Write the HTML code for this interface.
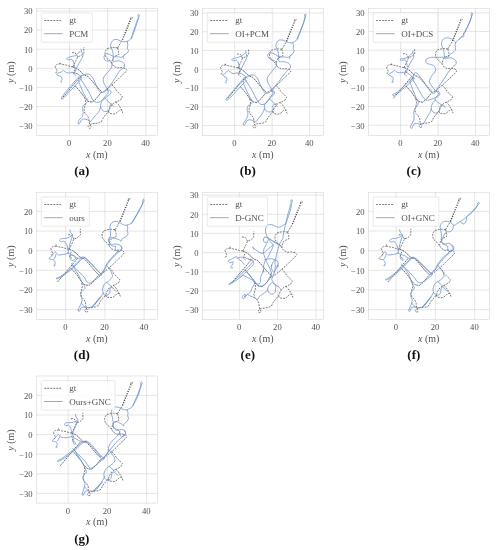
<!DOCTYPE html><html><head><meta charset="utf-8"><title>figure</title><style>html,body{margin:0;padding:0;background:#fff}svg{display:block}text{font-family:"Liberation Serif",serif;fill:#505050}.t{font-size:8.6px}.l{font-size:9px}.a{font-size:10px}.c{font-size:13px;font-weight:bold;fill:#111}.g{stroke:#cdcdcd;stroke-width:.5;fill:none}.gt{stroke:#3c3c3c;stroke-width:.68;fill:none;stroke-dasharray:1.9 1.1;stroke-linejoin:round}.gm{stroke:#383838;stroke-width:.78;fill:none;stroke-dasharray:1.9 1}.ga{stroke:#4f4f4f;stroke-width:1.4;fill:none;stroke-dasharray:1.2 1.2}.gs{stroke:#3c3c3c;stroke-width:.75;fill:none;stroke-linejoin:round;stroke-dasharray:2.1 .7}.b{stroke:#6a8fcb;stroke-width:.76;fill:none;stroke-linejoin:round;stroke-linecap:round}</style></head><body>
<svg width="498" height="550" viewBox="0 0 498 550">
<rect width="498" height="550" fill="#fff"/>
<g>
<text class="t" x="69.2" y="145.9" text-anchor="middle">0</text>
<text class="t" x="107.4" y="145.9" text-anchor="middle">20</text>
<text class="t" x="145.6" y="145.9" text-anchor="middle">40</text>
<text class="t" x="32.6" y="128.9" text-anchor="end">−30</text>
<text class="t" x="32.6" y="109.8" text-anchor="end">−20</text>
<text class="t" x="32.6" y="90.7" text-anchor="end">−10</text>
<text class="t" x="32.6" y="71.6" text-anchor="end">0</text>
<text class="t" x="32.6" y="52.5" text-anchor="end">10</text>
<text class="t" x="32.6" y="33.4" text-anchor="end">20</text>
<text class="t" x="32.6" y="14.3" text-anchor="end">30</text>
<path class="g" d="M69.5 8.2V135.3M107.7 8.2V135.3M145.9 8.2V135.3M36.5 125.6H157.5M36.5 106.5H157.5M36.5 87.4H157.5M36.5 68.3H157.5M36.5 49.2H157.5M36.5 30.1H157.5M36.5 11H157.5"/>
<rect class="g" x="36.5" y="8.2" width="121" height="127.1"/>
<clipPath id="ca"><rect x="36.5" y="8.2" width="121" height="127.1"/></clipPath>
<g clip-path="url(#ca)">
<path class="gt" d="M117.6 47.9L122.4 39.8"/>
<path class="ga" d="M122.4 39.8L130.7 19.2"/>
<path class="gt" d="M130.6 19.2L130.6 17.7L131.6 16.9L132.3 17.9L131.6 19"/>
<path class="gt" d="M117.6 47.9L113.9 47.4L110.2 47.9L106.9 48.8L105.1 51.5L105 55L106.7 58.2L109.6 60.7L111.9 63.4L111.9 63.6L113.8 66.3L117.1 67.9L121.1 67.6L125.1 68.3L126.8 70.3L124.7 72.9L121.8 75.5L118.5 78.8L115.2 81.9L111.9 84.8L108.6 87.7L105.2 90.3L102.6 92.1"/>
<path class="gt" d="M117.6 47.9L118.6 51.5L118.8 54.5L115.8 55.8L113.6 57.2L112.5 59.4L111.9 62L111.9 63.4"/>
<path class="gs" d="M72.9 66.9L76.2 68.2L79.5 70.4L82.2 73.5L84.8 75.2L87.5 76.1L90.1 78.7L94.1 83.4L98 88L102 92"/>
<path class="gt" d="M111.9 84.8L114.5 87.4L116.5 90.7L119.8 94L122.4 96.7L121.1 99.3L117.8 101.3L114.5 102.6L111.9 104.6L109.9 107.9L108.6 111.2L105.9 114.5L103.3 117.8L101.9 120.5L101.4 121.7L98.8 123L94.8 123.5L91.5 123.9L89.8 124.6L88.2 126.6L89.8 128.5L91.1 126.6L89.8 124.6L89.2 121.9L88.8 118.6L87.5 116L84.9 113.3L84 110L84.9 106.7L85.8 102.8L84.9 98.1"/>
<path class="gt" d="M108.6 111.2L109.2 113.2L111.9 113.9L115.2 113.9L117.8 111.9L119.8 109.9L121.8 109.9L122.8 113.2"/>
<path class="gt" d="M115.8 102L118.5 104.6L120.5 107.9L121.8 109.9"/>
<path class="gs" d="M75 85.6L80.3 91.5L84.9 98.1L88.2 101.4L92.2 102.1L96.1 98.8L101.4 92.2"/>
<path class="gm" d="M81.2 75.7L61.7 98.7"/>
<path class="gt" d="M72.9 66.9L74.2 64.2L76.2 60.2L77.6 56.9L80.9 55.6L83.9 53L83.8 47"/>
<path class="gt" d="M77.6 56.9L76.2 54.3L74.9 52.7L72.3 52.7L72.3 54"/>
<path class="gt" d="M72.9 66.9L69.6 66.2L66.3 65.1L63 64.6L60.4 63.8L60 61.6"/>
<path class="gt" d="M60.4 63.8L57.1 64.2L55.1 66.2L56.4 69.5L57.1 70.8L55.5 73.5"/>
<path class="gt" d="M74.9 69.5L74 71.7L73.6 74.1L75.6 75.4"/>
<path class="b" d="M131.3 38.7C131.8 37.5 133.3 33.7 134.2 31.2C135.1 28.7 136.1 26 136.8 23.6C137.6 21.3 138.4 18.6 138.8 17.3C139.3 15.9 139.5 15.9 139.5 15.4C139.5 15 138.9 14.5 138.6 14.5C138.3 14.5 137.8 15.2 137.8 15.7C137.7 16.2 138.5 16.3 138.3 17.5C138.1 18.7 137 20.9 136.3 22.8C135.6 24.8 134.9 27.3 134.2 29.2C133.5 31.1 132.8 33 132.3 34.5C131.9 36 131.6 37.6 131.4 38.2"/>
<path class="b" d="M131.4 38.2C131.1 38.5 130.5 39.3 129.8 39.8C129.1 40.3 128.2 41.1 127.2 41.4C126.2 41.7 125 41.9 123.9 41.8C122.8 41.7 121.6 41.2 120.5 40.9C119.4 40.5 118.3 39.7 117.2 39.5C116.1 39.4 114.8 39.4 113.9 39.8C113 40.2 112.2 41 111.7 41.8C111.1 42.6 110.7 43.9 110.6 44.8C110.5 45.8 110.9 46.7 111.3 47.8C111.6 48.8 112.3 50.1 112.6 51.1C112.9 52.1 112.9 52.8 113 53.7C113.1 54.6 113.2 55.5 113.3 56.4C113.3 57.3 113.3 58.1 113.3 59C113.3 59.9 112.7 61.3 113.3 61.7C113.8 62 115.5 61.1 116.6 61C117.7 60.9 118.8 60.8 119.9 61C120.9 61.2 122 61.7 122.8 62.3C123.6 63 124.3 63.9 124.5 64.7C124.7 65.6 124.3 66.6 123.9 67.4C123.4 68.1 122.4 68.8 121.9 69.2C121.3 69.7 121 69.4 120.5 69.9C119.9 70.5 119.2 71.6 118.5 72.6C117.8 73.6 117.3 74.7 116.5 75.9C115.7 77.1 114.7 78.6 113.9 79.9C113 81.2 112.1 82.6 111.2 83.9C110.3 85.1 109.2 86.2 108.6 87.2C107.9 88.2 107.5 89.4 107.2 89.8"/>
<path class="b" d="M127.2 41.4C127.3 42 127.8 43.9 127.8 45.1C127.8 46.3 127.1 47.5 127.2 48.4C127.3 49.3 128.5 49.6 128.5 50.4C128.5 51.2 127.8 52.4 127.2 53.1C126.5 53.8 125.2 54.1 124.5 54.7C123.9 55.2 123.3 55.8 123.2 56.4C123 57 123.5 58 123.6 58.4"/>
<path class="b" d="M124.5 54.7C124.1 55.1 122.9 57 121.9 57.3C120.9 57.7 119.8 56.9 118.6 56.8C117.3 56.7 115.6 56.9 114.6 56.8C113.6 56.6 113.5 56.4 112.6 56C111.7 55.6 110.3 54.8 109.3 54.4C108.3 54 107.4 53.6 106.6 53.7C105.9 53.8 105.1 54.4 104.6 55.1C104.2 55.7 103.9 56.8 104 57.7C104.1 58.6 104.6 59.8 105.3 60.4C106 60.9 107.2 61 108 61C108.7 61 109.3 59.9 109.9 60.4C110.6 60.8 111.7 62.7 111.9 63.9C112.1 65.2 111.8 66.7 111.3 67.9C110.7 69.1 109.5 70.2 108.6 71.3C107.6 72.4 106.5 73.5 105.6 74.6C104.8 75.7 103.9 76.8 103.5 77.9C103.1 79 103.1 80.1 103.3 81.2C103.4 82.3 104 83.4 104.6 84.5C105.1 85.6 106.1 86.9 106.6 87.8C107 88.7 107.1 89.5 107.2 89.8"/>
<path class="b" d="M107.2 89.8C107.7 89.9 109.2 90.2 109.9 90.5C110.5 90.8 111.2 91.1 111.2 91.8C111.2 92.5 110.5 93.7 109.9 94.5C109.2 95.2 108 95.8 107.2 96.4C106.5 97.1 105.2 97.8 105.2 98.4C105.2 99.1 106.5 99.7 107.2 100.4C108 101.2 108.9 102.2 109.9 103.1C110.9 104 112.5 105.1 113.2 105.7C113.9 106.3 113.7 106.5 113.9 106.7"/>
<path class="b" d="M105.2 98.4C104.8 98.8 103.3 99.5 102.6 100.4C101.9 101.3 101.2 102.6 100.9 103.7C100.5 104.8 100.4 106.1 100.6 107.1C100.8 108 101.3 109 101.9 109.7C102.6 110.4 103.6 111.2 104.6 111.4C105.6 111.6 107.1 111.5 107.9 111C108.7 110.5 109.3 109.3 109.6 108.4C109.9 107.5 109.6 106.5 109.9 105.7C110.1 105 111 104.1 111.2 103.7"/>
<path class="b" d="M100.6 107.1C100.4 107.7 99.9 109.8 99.3 111C98.6 112.2 97.5 113.3 96.6 114.3C95.7 115.3 94.7 116.1 94 117C93.2 117.9 92.7 118.8 92 119.6C91.3 120.5 90.4 122.1 90 122.3C89.6 122.5 90.2 121.4 89.8 121C89.3 120.6 88.1 120 87.1 119.7C86.1 119.3 84.8 118.9 83.8 119C82.8 119.1 81.8 119.7 81.1 120.3C80.5 121 80.3 122.3 79.8 123C79.4 123.7 78.8 124.4 78.5 124.3C78.2 124.2 78.2 123 78.2 122.3C78.3 121.7 78.5 121 78.9 120.3C79.3 119.7 79.9 119 80.5 118.4C81.1 117.7 82 117.4 82.5 116.4C82.9 115.4 83.1 113.7 83.1 112.4C83.1 111.1 82.4 109.6 82.5 108.4C82.6 107.2 83.1 106 83.8 105.1C84.5 104.2 85.8 104 86.4 103.1C87.1 102.2 87.9 100.8 87.8 99.8C87.7 98.8 86.4 98.1 85.8 97.1C85.1 96.2 84.5 95.2 83.8 93.8C83.1 92.5 82.5 90.7 81.8 89.2C81.1 87.6 80.4 86 79.8 84.6C79.3 83.1 78.5 81.7 78.5 80.6C78.5 79.5 79.4 78.7 79.8 77.9C80.3 77.2 80.9 76.3 81.1 75.9"/>
<path class="b" d="M81.1 75.9C81 76.3 80.3 76.9 80.5 77.9C80.7 78.9 81.7 80.6 82.5 81.9C83.2 83.2 84.1 84.3 85.1 85.9C86.1 87.4 87.4 89.4 88.4 91.2C89.4 92.9 90.3 94.9 91.1 96.5C91.9 98 92.2 99.5 93.1 100.5C94 101.5 95.2 102.2 96.4 102.4C97.6 102.7 99.3 102.3 100.4 101.8C101.5 101.2 102.1 100.1 103 99.1C103.9 98.1 104.8 96.9 105.7 95.8C106.5 94.7 108.1 93.5 108.3 92.5C108.6 91.5 107.4 90.3 107.2 89.8"/>
<path class="b" d="M81.1 75.9C81.5 75.8 82.3 75.6 83.1 75.3C84 74.9 85.3 74.1 86.4 74C87.6 73.8 88.8 74.1 89.8 74.6C90.8 75.2 91.6 76.2 92.4 77.3C93.2 78.4 93.7 79.8 94.4 81.2C95.1 82.7 95.7 84.4 96.4 85.9C97.1 87.3 97.6 88.8 98.4 89.9C99.1 91 100 92.2 101 92.5C102 92.8 103.2 92.4 104.3 91.8C105.4 91.3 107.1 89.6 107.7 89.2"/>
<path class="b" d="M79.4 76.1C78.7 76.9 76.8 79 75.2 80.8C73.6 82.7 71.5 85 69.9 86.9C68.2 88.9 66.5 90.9 65.2 92.5C64 94.1 62.8 95.6 62.2 96.5C61.6 97.4 61.4 97.4 61.4 97.8C61.4 98.2 61.6 98.8 61.9 98.9C62.2 99 62.3 99.1 63.1 98.5C63.9 97.8 65.2 96.3 66.6 94.9C67.9 93.5 69.5 91.6 71.2 89.9C72.9 88.1 74.9 86 76.5 84.2C78.2 82.3 80.4 79.9 81.1 79"/>
<path class="b" d="M81.1 49.2C81.3 49.7 81.5 51.6 81.8 52.5C82.1 53.4 83 53.7 83.1 54.5C83.2 55.2 82.8 56.2 82.5 57.1C82.1 58 81.7 58.9 81.1 59.8C80.6 60.6 80 61.4 79.4 62.4C78.9 63.4 78.3 64.7 77.8 65.7C77.3 66.7 76.9 67.5 76.5 68.4C76.1 69.3 75.5 70.3 75.2 71C74.9 71.8 74.6 72.7 74.5 73"/>
<path class="b" d="M80.2 51.1C79.9 51.5 79.1 52.5 78.5 53.1C77.9 53.7 77.2 54.3 76.5 54.7C75.8 55.2 75.3 55.5 74.5 55.8C73.7 56.1 72.8 56.2 71.9 56.4C71 56.7 70.1 56.8 69.2 57.1C68.3 57.4 66.7 58 66.6 58.4C66.5 58.9 67.8 59.7 68.6 59.8C69.3 59.9 70.4 58.9 71.2 59.1C72 59.3 72.8 60.3 73.2 61.1C73.6 61.9 73.6 62.9 73.9 63.7C74.1 64.6 74.3 65.5 74.5 66.4C74.7 67.3 75.1 68.6 75.2 69"/>
<path class="b" d="M74.5 73C74.1 72.9 72.9 72.4 71.9 72.4C70.9 72.4 69.5 73 68.6 73C67.6 73 66.7 72.8 65.9 72.4C65.1 71.9 64.5 70.6 63.9 70.4C63.4 70.1 63.1 70.7 62.6 71C62 71.4 61.4 72 60.6 72.4C59.8 72.7 58.6 72.7 58 73C57.3 73.3 56.5 73.9 56.6 74.3C56.7 74.8 58 75.3 58.6 75.7C59.3 76 60.1 75.9 60.6 76.3C61.2 76.8 61.8 77.7 61.9 78.3C62.1 79 61.9 79.8 61.7 80.3C61.4 80.9 60.6 81.3 60.6 81.6C60.6 82 61.7 82.2 61.9 82.3"/>
<path class="b" d="M74.5 73C75 73.1 76.3 73.2 77.2 73.7C78.1 74.1 79 75 79.8 75.7C80.6 76.3 81.5 77.3 81.8 77.7"/>
</g>
<rect x="41.3" y="12.9" width="51" height="29.3" rx="1" fill="#fff" fill-opacity=".8" stroke="#dadada" stroke-width=".6"/>
<path class="gt" d="M44.3 20.5H62.3"/>
<path class="b" d="M44.3 33.7H62.3"/>
<text class="l" x="69.3" y="23.3">gt</text>
<text class="l" x="69.3" y="36.7">PCM</text>
<text class="a" x="96.8" y="157.5" text-anchor="middle"><tspan font-style="italic">x</tspan> (m)</text>
<text class="a" transform="translate(14.3 72.2) rotate(-90)" text-anchor="middle"><tspan font-style="italic">y</tspan> (m)</text>
<text class="c" x="81.8" y="174.8" text-anchor="middle">(a)</text>
</g>
<g>
<text class="t" x="234.3" y="145.9" text-anchor="middle">0</text>
<text class="t" x="271.8" y="145.9" text-anchor="middle">20</text>
<text class="t" x="309.3" y="145.9" text-anchor="middle">40</text>
<text class="t" x="198.6" y="128.8" text-anchor="end">−30</text>
<text class="t" x="198.6" y="110.1" text-anchor="end">−20</text>
<text class="t" x="198.6" y="91.3" text-anchor="end">−10</text>
<text class="t" x="198.6" y="72.6" text-anchor="end">0</text>
<text class="t" x="198.6" y="53.8" text-anchor="end">10</text>
<text class="t" x="198.6" y="35.1" text-anchor="end">20</text>
<text class="t" x="198.6" y="16.3" text-anchor="end">30</text>
<path class="g" d="M234.6 8.2V135.3M272.1 8.2V135.3M309.6 8.2V135.3M202.5 125.5H323.5M202.5 106.8H323.5M202.5 88H323.5M202.5 69.3H323.5M202.5 50.5H323.5M202.5 31.8H323.5M202.5 13H323.5"/>
<rect class="g" x="202.5" y="8.2" width="121" height="127.1"/>
<clipPath id="cb"><rect x="202.5" y="8.2" width="121" height="127.1"/></clipPath>
<g clip-path="url(#cb)">
<path class="gt" d="M281.9 49.2L286.5 41.4"/>
<path class="ga" d="M286.5 41.4L294.7 21.1"/>
<path class="gt" d="M294.6 21.1L294.6 19.6L295.5 18.9L296.3 19.8L295.5 20.9"/>
<path class="gt" d="M281.8 49.3L278.2 48.8L274.5 49.3L271.3 50.2L269.6 52.8L269.5 56.3L271.1 59.4L274 61.9L276.2 64.5L276.2 64.7L278.1 67.3L281.4 68.9L285.3 68.6L289.2 69.3L290.8 71.2L288.8 73.8L285.9 76.4L282.7 79.6L279.4 82.6L276.2 85.5L272.9 88.3L269.7 90.9L267.1 92.6"/>
<path class="gt" d="M281.8 49.3L282.8 52.8L283 55.8L280.1 57.1L277.9 58.4L276.9 60.6L276.2 63.2L276.2 64.5"/>
<path class="gs" d="M238 67.9L241.2 69.2L244.4 71.4L247 74.4L249.6 76.1L252.2 77L254.8 79.6L258.7 84.1L262.6 88.6L266.5 92.5"/>
<path class="gt" d="M276.2 85.5L278.8 88.1L280.7 91.3L284 94.6L286.6 97.2L285.3 99.8L282 101.7L278.8 103L276.2 105L274.2 108.2L272.9 111.4L270.3 114.7L267.7 117.9L266.4 120.5L265.9 121.7L263.3 123L259.4 123.5L256.2 123.9L254.5 124.5L252.9 126.5L254.5 128.4L255.8 126.5L254.5 124.5L254 121.9L253.6 118.7L252.3 116.1L249.7 113.5L248.8 110.3L249.7 107L250.6 103.1L249.7 98.6"/>
<path class="gt" d="M272.9 111.4L273.6 113.4L276.2 114L279.4 114L282 112.1L284 110.1L285.9 110.1L287 113.4"/>
<path class="gt" d="M280.1 102.4L282.7 105L284.6 108.2L285.9 110.1"/>
<path class="gs" d="M240 86.3L245.2 92.1L249.7 98.6L252.9 101.8L256.8 102.5L260.7 99.2L265.9 92.7"/>
<path class="gm" d="M246 76.6L226.9 99.1"/>
<path class="gt" d="M238 67.9L239.3 65.3L241.2 61.4L242.5 58.1L245.7 56.8L248.7 54.3L248.6 48.4"/>
<path class="gt" d="M242.5 58.1L241.2 55.5L239.9 54L237.3 54L237.3 55.3"/>
<path class="gt" d="M238 67.9L234.7 67.2L231.5 66.2L228.2 65.7L225.6 64.9L225.2 62.7"/>
<path class="gt" d="M225.6 64.9L222.4 65.3L220.4 67.2L221.7 70.5L222.4 71.8L220.8 74.4"/>
<path class="gt" d="M239.9 70.5L239 72.7L238.6 75L240.6 76.3"/>
<path class="b" d="M297.1 38.5C297.4 37.9 297.9 36.6 298.5 35.2C299.1 33.7 300 31.7 300.7 29.9C301.5 28 302.4 25.8 303.1 23.9C303.8 22 304.4 19.8 304.8 18.3C305.3 16.9 305.8 16 305.9 15.3C306 14.6 305.6 14 305.4 14C305.1 13.9 304.6 14.5 304.6 15.2C304.5 15.8 305.1 16.8 305 18.1C304.8 19.3 304.3 20.9 303.8 22.6C303.2 24.2 302.4 26.1 301.8 27.9C301.1 29.6 300.4 31.6 299.8 33.2C299.2 34.7 298.6 36.2 298.2 37.2C297.8 38.2 297.7 38.8 297.5 39.1"/>
<path class="b" d="M297.5 39.1C297.1 39.5 296 40.5 295.2 41.1C294.3 41.7 293.5 42.5 292.5 42.7C291.5 43 290.3 42.9 289.2 42.7C288.1 42.5 287 41.8 285.9 41.4C284.8 41 283.7 40.3 282.6 40.1C281.5 39.9 280.2 39.7 279.3 40.1C278.3 40.4 277.4 41.4 276.9 42.2C276.3 43 276 44.1 275.9 45.1C275.9 46.1 276.3 47.3 276.6 48.4C276.9 49.5 277.6 50.6 277.9 51.7C278.3 52.8 278.5 53.9 278.6 55.1C278.7 56.2 278.5 57.3 278.6 58.4C278.7 59.5 278.6 61.1 279.3 61.7C279.9 62.2 281.5 61.6 282.6 61.7C283.7 61.7 284.8 61.8 285.9 62.1C286.9 62.4 288 62.8 288.8 63.4C289.6 64 290.3 64.8 290.5 65.7C290.7 66.5 290.3 67.8 290.1 68.3C289.9 68.8 290 68.1 289.4 68.6C288.8 69.1 287.6 70.4 286.7 71.3C285.9 72.1 285.3 72.9 284.5 73.9C283.7 74.9 282.7 76 281.8 77.2C281 78.4 280.2 79.9 279.2 81.2C278.2 82.5 276.9 83.9 275.9 85.2C274.9 86.5 273.9 88.1 273.2 89.2C272.6 90.2 272.1 91.1 271.9 91.5"/>
<path class="b" d="M292.5 42.7C292.7 43.2 293.5 44.8 293.6 45.8C293.7 46.7 293.1 47.6 293.2 48.4C293.3 49.2 294.1 49.9 294.1 50.7C294.1 51.5 293.7 52.6 293.2 53.3C292.6 54.1 291.5 54.4 290.9 55.1C290.4 55.7 290.1 56.4 289.9 57C289.6 57.6 289.6 58.4 289.6 58.6"/>
<path class="b" d="M290.9 55.1C290.4 55.4 288.9 57 287.9 57.3C286.8 57.6 285.8 57.1 284.6 57C283.3 57 281.8 57 280.6 56.8C279.4 56.6 278.4 56.2 277.3 55.7C276.2 55.2 275.1 54.2 274 53.7C272.8 53.2 271.6 52.8 270.6 52.8C269.7 52.8 268.9 53.2 268.4 53.7C267.9 54.2 267.5 55 267.6 55.7C267.7 56.4 268.3 57.4 268.9 58.1C269.5 58.8 270.5 59.3 271.3 59.7C272.1 60.1 273.2 59.9 274 60.4C274.7 60.8 275.5 61.3 275.9 62.3C276.4 63.3 276.7 65.5 276.6 66.3C276.5 67.1 275.9 66.6 275.2 67.3C274.5 68 273.5 69.5 272.6 70.6C271.7 71.7 270.7 72.8 269.9 73.9C269.1 75 268.1 76.1 267.7 77.2C267.2 78.3 267.1 79.4 267.3 80.5C267.4 81.6 268 82.8 268.6 83.9C269.1 85 270 86 270.6 87.2C271.1 88.4 271.7 90.5 271.9 91.1"/>
<path class="b" d="M271.9 91.1C272.2 91.1 273.5 90.8 273.9 91.1C274.3 91.5 274.8 92.4 274.6 93.1C274.3 93.9 273.3 94.9 272.6 95.8C271.8 96.7 270.5 97.9 269.9 98.4C269.4 99 269 98.8 269.3 99.1C269.5 99.4 270.5 99.8 271.2 100.4C272 101.1 273 102.2 273.9 103.1C274.8 104 275.9 105.1 276.5 105.7C277.1 106.3 277.3 106.5 277.5 106.7"/>
<path class="b" d="M269.3 99.1C268.8 99.5 267.4 100.8 266.6 101.7C265.8 102.7 264.9 104 264.6 105.1C264.3 106.2 264.3 107.4 264.6 108.4C264.9 109.4 265.6 110.4 266.3 111C267.1 111.6 268.3 112 269.3 112C270.2 112 271.2 111.6 271.9 111C272.6 110.4 273.1 109.3 273.2 108.4C273.3 107.5 272.3 106.4 272.6 105.7C272.8 105.1 273.9 104.7 274.6 104.4C275.2 104.1 276.2 103.8 276.5 103.7"/>
<path class="b" d="M264.6 108.4C264.4 108.9 263.8 110.6 263.3 111.7C262.7 112.8 262.1 113.9 261.3 115C260.5 116.1 259.4 117.3 258.7 118.3C257.9 119.3 257.1 120.4 256.7 121C256.2 121.5 256.4 121.7 255.8 121.7C255.2 121.6 254.1 120.9 253.1 120.6C252.1 120.3 250.9 119.6 249.8 119.7C248.7 119.7 247.5 120.3 246.7 121C246 121.7 245.9 122.9 245.4 123.7C245 124.4 244.5 125.3 244.1 125.4C243.7 125.5 243.2 124.8 243.2 124.3C243.2 123.8 243.7 123.1 244.1 122.3C244.5 121.6 245.2 120.7 245.8 119.7C246.4 118.7 247.2 117.6 247.5 116.4C247.9 115.1 247.9 113.7 247.8 112.4C247.7 111.1 247 109.6 247.1 108.4C247.3 107.3 247.8 106.3 248.5 105.5C249.1 104.7 250.5 104.5 251.1 103.8C251.8 103 252.5 102 252.4 101.1C252.4 100.2 251.3 99.5 250.7 98.5C250.1 97.5 249.6 96.5 248.9 95.2C248.2 93.8 247.2 92.1 246.5 90.5C245.8 89 245 87.3 244.5 85.9C243.9 84.4 243.2 83 243.2 81.9C243.2 80.8 244.1 80 244.5 79.3C244.9 78.5 245.6 77.6 245.8 77.3"/>
<path class="b" d="M245.8 77.3C245.8 77.6 245.1 78.3 245.4 79.3C245.7 80.2 246.7 81.9 247.5 83.2C248.3 84.6 249.3 85.7 250.2 87.2C251.1 88.8 252.2 90.7 253.1 92.5C254 94.3 254.9 96.3 255.8 97.8C256.6 99.4 257.3 100.7 258.1 101.8C259 102.9 259.9 104.1 261.1 104.4C262.2 104.8 263.9 104.4 265 103.8C266.2 103.2 267.1 101.8 268 100.7C268.8 99.6 269.5 98.4 270.3 97.1C271.2 95.9 272.7 94.1 273 93.2C273.3 92.2 272.1 91.8 271.9 91.5"/>
<path class="b" d="M245.8 77.3C246.2 77.2 246.9 77 247.8 76.6C248.7 76.2 250 75.2 251.1 75C252.2 74.8 253.4 74.8 254.4 75.3C255.4 75.8 256.3 76.8 257.1 77.9C257.9 79 258.4 80.5 259.1 81.9C259.7 83.3 260.3 85 261.1 86.5C261.8 88 262.6 89.7 263.4 90.9C264.3 92.1 265.2 93.3 266.1 93.6C267 93.8 268 93.1 269 92.5C270.1 91.9 271.8 90.3 272.3 89.9"/>
<path class="b" d="M244.5 77.7C243.8 78.5 241.7 80.7 240.1 82.4C238.6 84.2 236.9 86.3 235.2 88.3C233.6 90.2 231.7 92.5 230.3 94.1C229 95.7 227.8 97 227.1 97.8C226.4 98.6 226.3 98.7 226.2 99.1C226.1 99.5 226.3 100.1 226.6 100.2C226.9 100.3 227.1 100.3 227.9 99.7C228.8 99 230.2 97.7 231.6 96.2C233.1 94.8 234.8 92.8 236.5 90.9C238.2 89.1 240.2 87 241.8 85.2C243.5 83.5 245.5 81.1 246.2 80.3"/>
<path class="b" d="M245.8 51.1C245.9 51.6 246 53 246.2 53.8C246.4 54.6 247.1 55.2 247.1 56.1C247.1 56.9 246.7 58.1 246.2 59.1C245.8 60.1 245 61.2 244.5 62.1C244 63.1 243.6 64.1 243.2 65.1C242.7 66 242.3 66.8 241.8 67.7C241.4 68.6 240.9 69.5 240.5 70.4C240.1 71.2 239.7 72.6 239.6 73"/>
<path class="b" d="M245.4 52.5C245 52.9 243.9 54.5 243.2 55.1C242.4 55.8 241.8 56.1 240.9 56.4C240 56.8 238.9 57.1 237.9 57.4C236.8 57.7 235.6 57.8 234.6 58.2C233.5 58.5 231.7 59.1 231.6 59.5C231.5 59.9 233.1 60.7 233.9 60.8C234.6 60.9 235.5 59.9 236.1 60C236.8 60.2 237.4 61 237.9 61.7C238.3 62.5 238.5 63.5 238.8 64.4C239.1 65.3 239.4 66.2 239.6 67.1C239.8 67.9 240 69.3 240.1 69.7"/>
<path class="b" d="M239.6 73C239.1 73 237.6 72.9 236.5 73C235.5 73.1 234.2 73.8 233.2 73.7C232.2 73.6 231.4 72.9 230.6 72.4C229.8 71.8 229.3 70.4 228.6 70.4C227.9 70.3 227.3 71.4 226.6 72C225.9 72.5 225.3 73.2 224.6 73.7C224 74.1 222.7 74.2 222.6 74.6C222.5 75 223.4 75.9 224 76.3C224.5 76.7 225.5 76.5 225.9 77C226.4 77.4 226.8 78.3 226.9 79C226.9 79.6 226.6 80.4 226.3 81C226.1 81.5 225.2 82 225.3 82.3C225.3 82.6 226.4 82.8 226.6 83"/>
<path class="b" d="M239.6 73C240.1 73.2 241.6 73.8 242.5 74.3C243.4 74.9 244.4 75.7 245.2 76.3C245.9 77 246.8 78 247.1 78.3"/>
</g>
<rect x="207.3" y="12.9" width="65.6" height="29.3" rx="1" fill="#fff" fill-opacity=".8" stroke="#dadada" stroke-width=".6"/>
<path class="gt" d="M210.3 20.5H228.3"/>
<path class="b" d="M210.3 33.7H228.3"/>
<text class="l" x="235.3" y="23.3">gt</text>
<text class="l" x="235.3" y="36.7">OI+PCM</text>
<text class="a" x="262.8" y="157.5" text-anchor="middle"><tspan font-style="italic">x</tspan> (m)</text>
<text class="a" transform="translate(180.3 72.2) rotate(-90)" text-anchor="middle"><tspan font-style="italic">y</tspan> (m)</text>
<text class="c" x="247.8" y="174.8" text-anchor="middle">(b)</text>
</g>
<g>
<text class="t" x="400.3" y="145.9" text-anchor="middle">0</text>
<text class="t" x="437.8" y="145.9" text-anchor="middle">20</text>
<text class="t" x="475.3" y="145.9" text-anchor="middle">40</text>
<text class="t" x="364.5" y="128.6" text-anchor="end">−30</text>
<text class="t" x="364.5" y="109.8" text-anchor="end">−20</text>
<text class="t" x="364.5" y="91" text-anchor="end">−10</text>
<text class="t" x="364.5" y="72.3" text-anchor="end">0</text>
<text class="t" x="364.5" y="53.5" text-anchor="end">10</text>
<text class="t" x="364.5" y="34.8" text-anchor="end">20</text>
<text class="t" x="364.5" y="16.1" text-anchor="end">30</text>
<path class="g" d="M400.6 8.2V135.3M438.1 8.2V135.3M475.6 8.2V135.3M368.4 125.2H489.4M368.4 106.5H489.4M368.4 87.8H489.4M368.4 69H489.4M368.4 50.2H489.4M368.4 31.5H489.4M368.4 12.8H489.4"/>
<rect class="g" x="368.4" y="8.2" width="121" height="127.1"/>
<clipPath id="cc"><rect x="368.4" y="8.2" width="121" height="127.1"/></clipPath>
<g clip-path="url(#cc)">
<path class="gt" d="M447.9 48.9L452.5 41.1"/>
<path class="ga" d="M452.5 41.1L460.7 20.8"/>
<path class="gt" d="M460.6 20.8L460.6 19.3L461.5 18.6L462.3 19.5L461.5 20.6"/>
<path class="gt" d="M447.8 49L444.2 48.5L440.5 49L437.3 49.9L435.6 52.5L435.5 56L437.1 59.1L440 61.6L442.2 64.2L442.2 64.4L444.1 67L447.4 68.6L451.3 68.3L455.2 69L456.8 70.9L454.8 73.5L451.9 76.1L448.7 79.3L445.4 82.3L442.2 85.2L438.9 88L435.7 90.6L433.1 92.3"/>
<path class="gt" d="M447.8 49L448.8 52.5L449 55.5L446.1 56.8L443.9 58.1L442.9 60.3L442.2 62.9L442.2 64.2"/>
<path class="gs" d="M404 67.6L407.2 68.9L410.4 71.1L413 74.1L415.6 75.8L418.2 76.7L420.8 79.3L424.7 83.8L428.6 88.3L432.5 92.2"/>
<path class="gt" d="M442.2 85.2L444.8 87.8L446.7 91L450 94.3L452.6 96.9L451.3 99.5L448 101.4L444.8 102.7L442.2 104.7L440.2 107.9L438.9 111.1L436.3 114.4L433.7 117.6L432.4 120.2L431.9 121.4L429.3 122.7L425.4 123.2L422.2 123.6L420.5 124.2L418.9 126.2L420.5 128.1L421.8 126.2L420.5 124.2L420 121.6L419.6 118.4L418.3 115.8L415.7 113.2L414.8 110L415.7 106.7L416.6 102.8L415.7 98.3"/>
<path class="gt" d="M438.9 111.1L439.6 113.1L442.2 113.7L445.4 113.7L448 111.8L450 109.8L451.9 109.8L453 113.1"/>
<path class="gt" d="M446.1 102.1L448.7 104.7L450.6 107.9L451.9 109.8"/>
<path class="gs" d="M406 86L411.2 91.8L415.7 98.3L418.9 101.5L422.8 102.2L426.7 98.9L431.9 92.4"/>
<path class="gm" d="M412 76.3L392.9 98.8"/>
<path class="gt" d="M404 67.6L405.3 65L407.2 61.1L408.5 57.8L411.7 56.5L414.7 54L414.6 48.1"/>
<path class="gt" d="M408.5 57.8L407.2 55.2L405.9 53.7L403.3 53.7L403.3 55"/>
<path class="gt" d="M404 67.6L400.7 66.9L397.5 65.9L394.2 65.4L391.6 64.6L391.2 62.4"/>
<path class="gt" d="M391.6 64.6L388.4 65L386.4 66.9L387.7 70.2L388.4 71.5L386.8 74.1"/>
<path class="gt" d="M405.9 70.2L405 72.4L404.6 74.7L406.6 76"/>
<path class="b" d="M459.2 39.5C459.6 39 460.9 37.6 461.8 36.5C462.7 35.4 463.6 34.6 464.5 33.2C465.4 31.7 466.2 29.8 467.1 27.9C468 26 469 23.9 469.8 21.9C470.5 20 471.3 17.5 471.8 16.2C472.2 14.9 472.6 14.5 472.6 14C472.6 13.4 472 12.7 471.8 12.8C471.5 12.8 471.1 13.5 471.1 14.1C471.1 14.7 471.7 15.5 471.5 16.6C471.3 17.7 470.8 19 470.2 20.6C469.6 22.1 468.6 24.1 467.8 25.9C466.9 27.7 465.8 29.9 465.1 31.2C464.4 32.5 463.7 33 463.5 33.8C463.4 34.7 464.2 35.7 464.1 36.2C463.9 36.7 463.3 36.6 462.7 36.9C462.2 37.2 461.3 37.2 460.5 37.8C459.7 38.4 458.7 39.7 457.8 40.5C457 41.3 456 41.8 455.6 42.7C455.1 43.6 455.2 44.7 455.2 45.8C455.2 46.8 455.8 48.1 455.6 49.1C455.4 50.1 454.6 51 453.9 51.7C453.1 52.5 452 53.1 451.2 53.7C450.4 54.3 449.7 54.9 449.2 55.4C448.8 56 449.2 56.5 448.6 56.8C447.9 57 446.5 57 445.3 57C444 57.1 442.6 57.3 441.3 57.3C440 57.3 438.8 57.3 437.3 57.3C435.8 57.3 433.3 57.2 432 57.3C430.7 57.4 430.6 57.5 429.7 57.8C428.8 58 427.5 58.1 426.8 58.7C426.1 59.3 425.7 60.3 425.7 61.1C425.8 61.9 426.3 62.9 427.1 63.5C427.8 64 429.3 64 430.4 64.4C431.5 64.8 432.8 65.1 433.7 65.7C434.6 66.4 435.5 67.4 435.7 68.4C435.9 69.4 435.5 70.7 435 71.7C434.6 72.7 433.7 73.5 433 74.3C432.4 75.2 431.6 76 431 77C430.5 78 430 79.5 429.7 80.3C429.4 81.1 429 81.1 429.3 81.9C429.6 82.7 430.5 84.1 431.3 85.2C432 86.3 433 87.5 433.7 88.5C434.4 89.5 435.2 90.7 435.5 91.1"/>
<path class="b" d="M455.6 42.7C455.3 42.3 454.6 41.1 453.9 40.5C453.1 39.8 452.2 39.2 451.2 38.7C450.2 38.3 449 37.9 447.9 37.8C446.8 37.7 445.5 37.8 444.6 38.2C443.7 38.7 442.8 39.5 442.3 40.5C441.8 41.4 441.5 42.7 441.5 43.8C441.5 44.9 442 46 442.3 47.1C442.7 48.2 443.4 49.3 443.7 50.4C444 51.5 444 52.6 444.2 53.7C444.3 54.8 444.4 56.2 444.6 57C444.8 57.9 444.6 58.6 445.3 58.8C445.9 58.9 447.5 58.1 448.6 58C449.7 57.9 450.8 57.8 451.9 58.1C452.9 58.4 454.1 59 454.8 59.7C455.5 60.4 456.1 61.2 456.3 62.1C456.4 62.9 456 64.1 455.6 64.7C455.2 65.4 454.5 65.3 453.8 66C453.1 66.6 452 67.6 451.2 68.6C450.3 69.6 449.4 70.7 448.5 71.9C447.6 73.1 446.7 74.6 445.9 75.9C445 77.2 444.1 78.6 443.2 79.9C442.3 81.2 441.4 82.5 440.6 83.9C439.7 85.2 438.7 86.6 437.9 87.8C437.1 89 436.2 90.6 435.9 91.1"/>
<path class="b" d="M435.9 91.1C436.2 91.4 437.5 91.9 437.9 92.5C438.3 93 438.8 93.8 438.6 94.5C438.3 95.1 437.1 95.8 436.6 96.4C436 97.1 435.5 97.8 435.3 98.4C435 99.1 435.3 100.1 435.3 100.4"/>
<path class="b" d="M413.1 77.3C413.1 77.6 412.5 78.3 412.7 79.3C413 80.2 414.1 81.7 414.9 83C415.6 84.2 416.3 85.5 417.1 86.9C417.9 88.4 418.9 90.3 419.8 91.8C420.7 93.4 421.5 95 422.4 96.2C423.3 97.5 424.1 98.7 425.1 99.4C426.1 100.1 427.3 100.2 428.4 100.2C429.5 100.2 430.6 99.5 431.7 99.1C432.8 98.7 433.9 98.3 435 97.8C436.1 97.3 437.5 96.9 438.3 96.2C439.1 95.5 439.9 94.4 439.9 93.6C440 92.8 439.3 91.8 438.7 91.4C438.1 91 436.7 91.2 436.3 91.2"/>
<path class="b" d="M413.1 77.3C413.3 76.8 413.4 75 413.8 74.2C414.2 73.4 414.8 72.8 415.4 72.6C416 72.5 416.6 73 417.1 73.3C417.6 73.6 417.9 74 418.4 74.6C419 75.3 419.7 76.3 420.4 77.3C421.2 78.3 422.2 79.4 423.1 80.6C424 81.8 424.9 83.2 425.7 84.6C426.6 85.9 427.5 87.2 428.4 88.5C429.3 89.9 430.4 91.7 431.3 92.5C432.2 93.3 433.1 93.4 434 93.2C434.8 92.9 435.9 91.5 436.3 91.2"/>
<path class="b" d="M413.1 77.3C412.6 78 410.4 80.5 410.1 81.9C409.8 83.3 410.9 84.4 411.4 85.9C411.9 87.3 412.5 89 413.1 90.5C413.8 92.1 414.5 93.7 415.1 95.2C415.7 96.6 416.2 97.9 416.7 99.1C417.3 100.3 418.4 101.3 418.4 102.4C418.5 103.6 417.7 104.8 417.1 105.8C416.6 106.8 415.7 107.3 415.1 108.4C414.6 109.5 414 111.1 413.8 112.4C413.6 113.7 414.1 115 414.1 116.4C414.1 117.7 414.1 119.2 413.8 120.3C413.5 121.4 412.7 122.1 412.2 123C411.7 123.9 411.2 124.9 410.9 125.6C410.6 126.4 410.3 127.2 410.5 127.6C410.7 128.1 411.4 128.5 411.8 128.3C412.2 128.1 412.4 127 412.7 126.3C413.1 125.6 413.2 124.6 413.8 124.1C414.4 123.5 415.5 123.3 416.5 123.3C417.5 123.3 418.7 124 419.8 124.1C420.9 124.1 422.3 123.9 423.1 123.7C423.9 123.4 423.9 123.1 424.4 122.3C424.9 121.5 425.4 120.1 426 119C426.6 117.9 427.3 116.8 428 115.7C428.6 114.6 429.4 113.5 430 112.4C430.5 111.2 431 110.1 431.3 109C431.5 107.9 431.2 106.8 431.5 105.7C431.9 104.6 432.6 103.3 433.3 102.4C433.9 101.5 434.6 100.5 435.3 100.4C435.9 100.3 436.5 101.2 437.2 101.7C438 102.3 439.1 103.2 439.9 103.7C440.7 104.3 441.5 104.8 441.9 105.1"/>
<path class="b" d="M431.3 109C431.5 109.5 431.9 111 432.6 111.7C433.3 112.4 434.4 112.9 435.3 113C436.1 113.1 437.1 112.9 437.9 112.4C438.7 111.8 439.6 110.6 439.9 109.7C440.2 108.8 439.7 107.8 439.9 107.1C440.1 106.3 440.6 105.3 441.2 105.1C441.9 104.8 443.3 105.3 443.9 105.7C444.5 106.1 444.6 107.2 444.8 107.4"/>
<path class="b" d="M413.1 77.9C412.4 78.6 410.2 80.4 408.5 81.9C406.9 83.4 405 85.3 403.2 86.9C401.4 88.6 399.4 90.4 397.9 91.6C396.4 92.7 395.1 93.3 394.2 93.8C393.3 94.3 392.8 94.2 392.6 94.5C392.4 94.8 392.5 95.3 392.9 95.4C393.2 95.5 393.5 95.7 394.6 95.2C395.7 94.6 397.6 93.4 399.2 92.1C400.9 90.9 402.8 89.1 404.5 87.6C406.3 86.1 408.2 84.5 409.8 83C411.5 81.5 413.7 79.3 414.5 78.6"/>
<path class="b" d="M412.7 51.1C412.8 51.6 413 53 413.1 53.8C413.3 54.6 413.8 55.3 413.8 56.1C413.8 56.8 413.5 57.6 413.1 58.4C412.7 59.3 412 60.2 411.4 61.1C410.9 62 410.3 62.9 409.8 63.7C409.3 64.6 408.9 65.5 408.5 66.4C408.1 67.3 407.5 68.3 407.2 69.3C406.9 70.3 406.6 71.8 406.5 72.4"/>
<path class="b" d="M412.5 52.5C412.2 52.9 411.3 54.3 410.5 55.1C409.7 55.9 408.7 56.6 407.8 57.1C407 57.6 406.1 58 405.2 58.2C404.3 58.4 403.4 58.2 402.5 58.4C401.7 58.7 400 59.2 399.9 59.5C399.8 59.8 401.1 60.4 401.9 60.4C402.7 60.5 403.8 59.6 404.5 59.8C405.2 59.9 405.7 60.6 406.1 61.4C406.5 62.1 406.7 63.1 406.9 64C407.1 64.9 407.4 66.2 407.4 66.7"/>
<path class="b" d="M406.5 72.4C406 72.4 404.3 72.3 403.2 72.4C402.1 72.4 401 72.8 399.9 72.8C398.8 72.7 397.5 72.4 396.6 72C395.7 71.6 395.3 70.4 394.6 70.4C393.9 70.4 393.3 71.5 392.6 72C391.9 72.4 390.9 72.8 390.2 73.3C389.6 73.7 388.6 74.2 388.6 74.6C388.6 75 389.6 75.6 390.2 75.9C390.8 76.3 391.8 76.2 392.3 76.7C392.8 77.2 393.2 78.3 393.3 79C393.3 79.7 392.8 80.4 392.6 81C392.4 81.5 391.8 82.1 391.9 82.3C392.1 82.5 393 82.1 393.3 82"/>
<path class="b" d="M406.5 72.4C407 72.7 408.3 73.7 409.2 74.3C410.1 75 411.1 75.7 411.8 76.3C412.6 77 413.3 78 413.5 78.3"/>
</g>
<rect x="373.2" y="12.9" width="64.6" height="29.3" rx="1" fill="#fff" fill-opacity=".8" stroke="#dadada" stroke-width=".6"/>
<path class="gt" d="M376.2 20.5H394.2"/>
<path class="b" d="M376.2 33.7H394.2"/>
<text class="l" x="401.2" y="23.3">gt</text>
<text class="l" x="401.2" y="36.7">OI+DCS</text>
<text class="a" x="428.7" y="157.5" text-anchor="middle"><tspan font-style="italic">x</tspan> (m)</text>
<text class="a" transform="translate(346.2 72.2) rotate(-90)" text-anchor="middle"><tspan font-style="italic">y</tspan> (m)</text>
<text class="c" x="413.8" y="174.8" text-anchor="middle">(c)</text>
</g>
<g>
<text class="t" x="65.3" y="329.9" text-anchor="middle">0</text>
<text class="t" x="104.6" y="329.9" text-anchor="middle">20</text>
<text class="t" x="143.9" y="329.9" text-anchor="middle">40</text>
<text class="t" x="32.6" y="312.9" text-anchor="end">−30</text>
<text class="t" x="32.6" y="293.3" text-anchor="end">−20</text>
<text class="t" x="32.6" y="273.6" text-anchor="end">−10</text>
<text class="t" x="32.6" y="254" text-anchor="end">0</text>
<text class="t" x="32.6" y="234.4" text-anchor="end">10</text>
<text class="t" x="32.6" y="214.7" text-anchor="end">20</text>
<path class="g" d="M65.6 192.2V319.3M104.9 192.2V319.3M144.2 192.2V319.3M36.5 309.6H157.5M36.5 290H157.5M36.5 270.3H157.5M36.5 250.7H157.5M36.5 231.1H157.5M36.5 211.4H157.5"/>
<rect class="g" x="36.5" y="192.2" width="121" height="127.1"/>
<clipPath id="cd"><rect x="36.5" y="192.2" width="121" height="127.1"/></clipPath>
<g clip-path="url(#cd)">
<path class="gt" d="M115.1 229.7L120 221.4"/>
<path class="ga" d="M120 221.4L128.5 200.2"/>
<path class="gt" d="M128.4 200.2L128.4 198.7L129.4 197.9L130.2 198.9L129.4 200"/>
<path class="gt" d="M115 229.7L111.2 229.2L107.4 229.7L104 230.7L102.2 233.4L102.1 237.1L103.9 240.3L106.9 242.9L109.2 245.6L109.2 245.9L111.2 248.6L114.6 250.3L118.7 250L122.7 250.7L124.5 252.7L122.3 255.4L119.4 258.1L116 261.5L112.6 264.7L109.2 267.7L105.8 270.6L102.4 273.4L99.6 275.1"/>
<path class="gt" d="M115 229.7L116.1 233.4L116.2 236.5L113.3 237.9L110.9 239.2L109.9 241.5L109.2 244.3L109.2 245.6"/>
<path class="gs" d="M69.1 249.2L72.5 250.6L75.9 252.9L78.6 256L81.4 257.8L84.1 258.7L86.8 261.4L90.9 266.2L94.9 271L99 275"/>
<path class="gt" d="M109.2 267.7L111.9 270.4L113.9 273.8L117.3 277.2L120 279.9L118.7 282.6L115.3 284.6L111.9 286L109.2 288L107.1 291.4L105.8 294.8L103 298.2L100.3 301.6L99 304.4L98.4 305.6L95.7 306.9L91.6 307.5L88.2 307.9L86.4 308.6L84.8 310.6L86.4 312.6L87.8 310.6L86.4 308.6L85.9 305.8L85.5 302.4L84.1 299.7L81.4 297L80.5 293.6L81.4 290.2L82.4 286.1L81.4 281.4"/>
<path class="gt" d="M105.8 294.8L106.4 296.9L109.2 297.6L112.6 297.6L115.3 295.5L117.3 293.5L119.4 293.5L120.4 296.9"/>
<path class="gt" d="M113.2 285.3L116 288L118 291.4L119.4 293.5"/>
<path class="gs" d="M71.2 268.5L76.7 274.6L81.4 281.4L84.8 284.8L88.9 285.5L93 282.1L98.4 275.3"/>
<path class="gm" d="M77.6 258.4L57.5 281.9"/>
<path class="gt" d="M69.1 249.2L70.5 246.5L72.5 242.4L73.9 239L77.3 237.7L80.4 234.9L80.3 228.8"/>
<path class="gt" d="M73.9 239L72.5 236.3L71.2 234.7L68.4 234.7L68.4 236"/>
<path class="gt" d="M69.1 249.2L65.7 248.5L62.3 247.4L58.9 246.9L56.2 246.1L55.8 243.8"/>
<path class="gt" d="M56.2 246.1L52.8 246.5L50.8 248.5L52.1 251.9L52.8 253.3L51.2 256"/>
<path class="gt" d="M71.2 251.9L70.2 254.2L69.8 256.7L71.8 258"/>
<path class="b" d="M131.5 223.5C131.8 223.2 132.5 222.5 133.1 221.4C133.8 220.4 134.7 218.7 135.5 217.2C136.4 215.7 137.3 214.1 138.2 212.5C139.1 211 140 209.3 140.8 207.6C141.6 206 142.5 203.8 143.1 202.6C143.6 201.4 144.1 200.8 144.1 200.2C144.2 199.6 143.7 199.1 143.5 199.2C143.2 199.2 142.8 199.8 142.7 200.5C142.5 201.2 143.1 202 142.7 203.3C142.3 204.5 141.2 206.4 140.4 207.9C139.6 209.5 138.7 211 137.8 212.5C136.9 214.1 135.9 215.9 135.1 217.2C134.3 218.5 133.6 219.6 133.1 220.5C132.6 221.4 132.6 222.2 132.1 222.7C131.5 223.3 130.6 223.7 129.8 224.1C129 224.5 128.1 225 127.2 225.1C126.3 225.3 125.5 225.4 124.5 225.1C123.5 224.9 122.3 224.1 121.2 223.5C120.1 223 119 222.2 117.9 221.8C116.8 221.5 115.6 221.3 114.6 221.4C113.6 221.6 112.6 222.1 111.9 222.7C111.2 223.4 110.7 224.2 110.3 225.1C110 226.1 109.9 227.3 109.9 228.4C109.9 229.6 110.2 230.7 110.3 231.8C110.4 232.9 110.7 234.1 110.6 235.1C110.5 236.1 110.2 236.8 109.9 237.7C109.7 238.6 109.3 239.5 109.3 240.4C109.2 241.3 109.3 242.3 109.5 243C109.8 243.8 110 244.5 110.6 245C111.2 245.6 112.4 246.1 113.3 246.3C114.1 246.6 115.3 245.9 115.6 246.3C116 246.8 115.1 248.2 115.2 249C115.4 249.8 115.9 250.6 116.6 251C117.2 251.4 118.4 251.5 119.2 251.4C120 251.2 120.8 250.7 121.2 250.1C121.6 249.4 122 248.4 121.9 247.7C121.8 246.9 121.2 246.2 120.5 245.7C119.9 245.1 118.8 244.6 117.9 244.4C117 244.1 116.1 244 115.2 244C114.4 244 113.4 244.4 112.6 244.4C111.8 244.3 110.9 244.1 110.3 243.7C109.7 243.3 109.4 242.8 109 242.1C108.7 241.4 108.2 240.4 108.2 239.7C108.3 239 108.8 238.1 109.3 237.7C109.8 237.3 110.5 237.3 111.3 237.3C112 237.4 112.9 237.8 113.9 238.1C114.9 238.4 116.2 238.7 117.2 239.1C118.2 239.4 119.3 239.6 119.9 240C120.5 240.4 120.6 241.5 120.9 241.3C121.3 241.1 121.4 239.6 121.9 239.1C122.4 238.5 123.1 238.2 123.9 237.7C124.6 237.3 125.8 237.1 126.5 236.4C127.2 235.7 128 234.6 128.1 233.7C128.2 232.9 127.2 232 127.2 231.1C127.1 230.2 127.8 229.4 127.8 228.4C127.8 227.5 127.3 225.7 127.2 225.1"/>
<path class="b" d="M121.1 246C121.3 246.4 122 247.8 121.8 248.6C121.6 249.5 120.6 250.5 119.8 251.3C119 252.1 118.1 252.5 117.2 253.3C116.3 254.1 115.4 255 114.5 255.9C113.6 256.8 112.8 257.6 111.9 258.6C111 259.6 110.1 260.8 109.2 261.9C108.3 263 107.2 264.1 106.6 265.2C105.9 266.3 105.8 267.4 105.2 268.5C104.7 269.6 104 270.8 103.3 271.8C102.5 272.9 101.4 274.1 100.6 274.7C99.8 275.4 98.9 275.6 98.6 275.8"/>
<path class="b" d="M118.5 250.6C118.1 251.1 116.8 252.5 115.8 253.5C114.9 254.5 113.5 255.5 112.5 256.6C111.5 257.7 110.8 258.8 109.9 259.9C109 261 107.9 262.1 107.2 263.2C106.5 264.3 106.2 265.4 105.6 266.5C105.1 267.6 104.5 268.9 103.9 269.8C103.3 270.8 102.7 271.6 101.9 272.5C101.2 273.4 99.7 274.7 99.3 275.1"/>
<path class="b" d="M106.6 265.2C106.9 265.6 107.9 267 108.6 267.9C109.2 268.7 110 269.5 110.5 270.5C111.1 271.5 111.5 272.8 111.9 273.8C112.2 274.8 112.8 275.6 112.5 276.5C112.3 277.4 111.2 278.3 110.5 279.1C109.9 279.9 109.2 280.6 108.6 281.1C107.9 281.7 107.2 282 106.6 282.4C105.9 282.9 105.1 283.1 104.6 283.8C104 284.4 103.6 285.4 103.3 286.4C102.9 287.4 102.6 288.6 102.6 289.7C102.6 290.8 102.8 292 103.3 293C103.7 294 104.5 295.4 105.2 295.7C106 296 107.1 295.6 107.9 295C108.7 294.5 109.5 293.3 109.9 292.4C110.2 291.5 109.7 290.5 109.9 289.7C110.1 288.9 110.4 287.7 110.9 287.5C111.5 287.3 112.5 287.9 113.2 288.4C113.9 288.9 114.7 289.9 115.2 290.4C115.7 290.9 116.1 291.3 116.2 291.4"/>
<path class="b" d="M106.6 282.4C106.9 282.7 107.9 283.2 108.6 283.8C109.2 284.3 109.9 285.1 110.5 285.7C111.2 286.4 112.2 287.4 112.5 287.7"/>
<path class="b" d="M103.3 293C102.9 293.6 102 295.2 101.3 296.4C100.5 297.5 99.5 298.6 98.6 299.7C97.7 300.8 96.7 302 96 303C95.2 304 94.7 304.9 94 305.6C93.2 306.4 90.3 309 91.3 307.6C92.4 306.2 99.1 298.4 100.3 297.1C101.5 295.7 99 298.8 98.3 299.7C97.7 300.6 97 301.5 96.3 302.4C95.7 303.2 95.1 304.2 94.3 305C93.6 305.8 92.7 306.5 91.7 307C90.7 307.4 89.5 307.6 88.4 307.7C87.3 307.7 86.2 307.3 85.1 307.3C84 307.2 82.5 307 81.7 307.3C81 307.5 80.8 308.3 80.4 309C80 309.6 79.9 310.9 79.5 311.2C79.1 311.6 78.3 311.3 78.2 311C78 310.6 78.2 309.8 78.4 309C78.7 308.2 79.3 307.3 79.8 306.3C80.2 305.3 81 304.1 81.4 303C81.7 301.9 82.2 300.8 82.1 299.7C82.1 298.6 81.3 297.5 81.1 296.4C80.9 295.3 80.8 294.1 81.1 293.1C81.4 292.1 82.4 291.2 83.1 290.4C83.7 289.7 84.8 289.2 85.1 288.4C85.3 287.7 84.8 286.7 84.4 285.8C84 284.9 83.1 284.3 82.4 283.1C81.7 281.9 81.2 280 80.4 278.5C79.7 276.9 78.7 275.3 77.8 273.9C76.9 272.4 75.9 271.2 75.1 269.9C74.3 268.6 73.7 266.9 73.1 265.9C72.6 264.9 72 264.2 71.8 263.9"/>
<path class="b" d="M81.4 303C81.6 303.4 82.3 304.7 83.1 305.4C83.8 306.1 85.3 306.9 85.7 307.3"/>
<path class="b" d="M71.8 263.9C72.5 264.7 74.6 267.2 75.8 268.6C77 269.9 78 270.8 79.1 271.9C80.2 273 81.4 274.1 82.4 275.2C83.4 276.3 84.3 277.4 85.1 278.5C85.8 279.6 86.3 281 87.1 281.8C87.8 282.6 88.7 283.2 89.7 283.1C90.7 283 91.8 281.9 93 281.1C94.2 280.4 95.8 279.4 97 278.5C98.2 277.6 99.4 276.6 100.3 275.8C101.2 275.1 102.3 274.3 102.3 273.9C102.3 273.4 101.2 273.9 100.3 273.2C99.4 272.5 98.2 271.2 97 269.9C95.8 268.6 94.3 266.7 93 265.2C91.7 263.8 90.3 262.5 89 261.3C87.8 260.1 86.8 258.6 85.7 258C84.6 257.3 83.6 256.7 82.4 257.3C81.2 257.8 80 259.7 78.4 261.3C76.9 262.8 74.9 264.9 73.1 266.6C71.4 268.2 69.6 269.8 67.8 271.2C66.1 272.6 64.2 274.1 62.5 275.2C60.9 276.3 59 277.3 57.9 277.8C56.8 278.3 56.3 277.9 56.2 278.1C56.1 278.3 56.3 279 57.2 278.8C58.2 278.5 60.2 277.5 61.9 276.5C63.5 275.5 65.4 274.2 67.2 272.8C68.9 271.4 70.7 269.7 72.5 268.2C74.2 266.6 76 264.9 77.8 263.3C79.5 261.6 81.6 258.9 83.1 258.2C84.5 257.5 85.3 258.3 86.4 259C87.5 259.7 88.5 261.3 89.7 262.6C90.9 263.9 92.4 265.2 93.7 266.6C95 268 96.4 269.7 97.7 270.9C98.9 272.2 100.4 273.6 101 274.1"/>
<path class="b" d="M69.8 229.8C70 230.3 70.3 231.7 70.7 232.5C71.2 233.3 72.3 233.9 72.5 234.7C72.6 235.6 72.1 236.7 71.8 237.8C71.5 238.9 71.1 240 70.7 241.1C70.4 242.2 70.1 243.3 69.8 244.4C69.6 245.5 69.4 246.7 69.2 247.7C68.9 248.7 68.7 249.5 68.5 250.4C68.3 251.3 68.2 252.6 68.1 253"/>
<path class="b" d="M71.8 235.5C71.4 235.8 70.3 236.7 69.4 237.1C68.5 237.6 67.4 238 66.5 238.2C65.6 238.4 64.7 238.4 63.9 238.5C63 238.5 61.9 238.4 61.2 238.7C60.5 239.1 59.6 239.9 59.6 240.4C59.6 241 60.5 241.7 61.2 241.8C61.9 241.9 63.1 240.9 63.9 241.1C64.6 241.3 65.3 242.3 65.8 243.1C66.4 243.9 66.8 244.9 67.2 245.7C67.5 246.6 67.7 247.6 67.8 248.4C68 249.2 68.1 250.1 68.1 250.4"/>
<path class="b" d="M68.1 253C67.6 253.2 66.2 253.8 65.2 254.1C64.1 254.4 63 254.5 61.9 254.6C60.8 254.8 59.4 255.2 58.6 255C57.7 254.9 57.1 254.3 56.6 253.7C56 253.1 55.8 251.7 55.2 251.7C54.7 251.7 53.9 253 53.3 253.7C52.7 254.4 52.3 255.3 51.7 256C51 256.6 49.9 257.2 49.5 257.7C49.1 258.2 49 258.7 49.3 259C49.6 259.3 50.6 259.3 51.3 259.4C51.9 259.5 52.7 259.4 53.3 259.7C53.8 260 54.2 260.6 54.6 261.3C54.9 261.9 55.3 262.8 55.2 263.4C55.2 264 54.5 264.5 54.3 265C54.1 265.4 53.8 266 53.9 266C54.1 266.1 55 265.4 55.2 265.2"/>
<path class="b" d="M55.9 254.4C55.8 254.8 55.6 256.2 55.2 257C54.9 257.8 54.1 258.7 53.9 259"/>
<path class="b" d="M68.1 253C68.5 253.3 69.6 254 70.5 254.4C71.3 254.8 72.4 255 73.1 255.4C73.8 255.8 73.8 256.3 74.7 256.8C75.6 257.2 77.2 258.3 78.4 258.3C79.7 258.4 81.7 257.2 82.4 257"/>
<path class="b" d="M69.8 256.4C70 256.1 70.4 255.1 71.1 255C71.9 254.9 73.4 255.2 74.2 255.7C75 256.1 75.7 257 75.8 257.7C75.9 258.3 75.3 259.2 74.7 259.7C74.2 260.1 73.2 260.4 72.5 260.3C71.7 260.2 70.7 259.7 70.2 259C69.8 258.3 69.9 256.8 69.8 256.4"/>
</g>
<rect x="41.3" y="196.9" width="48" height="29.3" rx="1" fill="#fff" fill-opacity=".8" stroke="#dadada" stroke-width=".6"/>
<path class="gt" d="M44.3 204.5H62.3"/>
<path class="b" d="M44.3 217.7H62.3"/>
<text class="l" x="69.3" y="207.3">gt</text>
<text class="l" x="69.3" y="220.7">ours</text>
<text class="a" x="96.8" y="341.5" text-anchor="middle"><tspan font-style="italic">x</tspan> (m)</text>
<text class="a" transform="translate(14.3 256.2) rotate(-90)" text-anchor="middle"><tspan font-style="italic">y</tspan> (m)</text>
<text class="c" x="81.8" y="358.8" text-anchor="middle">(d)</text>
</g>
<g>
<text class="t" x="239.1" y="329.9" text-anchor="middle">0</text>
<text class="t" x="277.4" y="329.9" text-anchor="middle">20</text>
<text class="t" x="315.7" y="329.9" text-anchor="middle">40</text>
<text class="t" x="198.6" y="313.4" text-anchor="end">−30</text>
<text class="t" x="198.6" y="294.2" text-anchor="end">−20</text>
<text class="t" x="198.6" y="275.1" text-anchor="end">−10</text>
<text class="t" x="198.6" y="255.9" text-anchor="end">0</text>
<text class="t" x="198.6" y="236.8" text-anchor="end">10</text>
<text class="t" x="198.6" y="217.6" text-anchor="end">20</text>
<text class="t" x="198.6" y="198.4" text-anchor="end">30</text>
<path class="g" d="M239.4 192.2V319.3M277.7 192.2V319.3M316 192.2V319.3M202.5 310.1H323.5M202.5 290.9H323.5M202.5 271.8H323.5M202.5 252.6H323.5M202.5 233.4H323.5M202.5 214.3H323.5M202.5 195.1H323.5"/>
<rect class="g" x="202.5" y="192.2" width="121" height="127.1"/>
<clipPath id="ce"><rect x="202.5" y="192.2" width="121" height="127.1"/></clipPath>
<g clip-path="url(#ce)">
<path class="gt" d="M287.7 232.1L292.4 224.1"/>
<path class="ga" d="M292.4 224.1L300.8 203.4"/>
<path class="gt" d="M300.7 203.4L300.7 201.9L301.6 201.1L302.4 202L301.6 203.2"/>
<path class="gt" d="M287.6 232.1L283.9 231.6L280.2 232.1L276.9 233.1L275.1 235.7L275 239.3L276.7 242.5L279.6 245L281.9 247.7L281.9 247.9L283.9 250.6L287.2 252.2L291.1 251.9L295.1 252.6L296.8 254.6L294.7 257.2L291.8 259.9L288.5 263.2L285.2 266.2L281.9 269.1L278.6 272.1L275.2 274.7L272.6 276.4"/>
<path class="gt" d="M287.6 232.1L288.7 235.7L288.8 238.8L285.9 240.1L283.6 241.4L282.6 243.7L281.9 246.3L281.9 247.7"/>
<path class="gs" d="M242.8 251.1L246.1 252.5L249.5 254.7L252.1 257.8L254.8 259.5L257.4 260.4L260.1 263.1L264 267.7L268 272.4L272 276.3"/>
<path class="gt" d="M281.9 269.1L284.5 271.8L286.5 275.1L289.8 278.4L292.5 281.1L291.1 283.7L287.8 285.7L284.5 287L281.9 289L279.9 292.3L278.6 295.6L275.9 299L273.3 302.3L271.9 304.9L271.4 306.1L268.7 307.4L264.8 308L261.4 308.4L259.7 309L258.1 311L259.7 313L261.1 311L259.7 309L259.2 306.4L258.8 303.1L257.5 300.4L254.8 297.7L253.9 294.4L254.8 291.1L255.7 287.1L254.8 282.5"/>
<path class="gt" d="M278.6 295.6L279.2 297.6L281.9 298.3L285.2 298.3L287.8 296.3L289.8 294.3L291.8 294.3L292.9 297.6"/>
<path class="gt" d="M285.8 286.4L288.5 289L290.5 292.3L291.8 294.3"/>
<path class="gs" d="M244.9 269.9L250.2 275.9L254.8 282.5L258.1 285.8L262.1 286.5L266.1 283.2L271.4 276.5"/>
<path class="gm" d="M251.1 260.1L231.5 283"/>
<path class="gt" d="M242.8 251.1L244.2 248.5L246.1 244.5L247.5 241.2L250.8 239.9L253.8 237.2L253.7 231.3"/>
<path class="gt" d="M247.5 241.2L246.1 238.6L244.8 237L242.2 237L242.2 238.3"/>
<path class="gt" d="M242.8 251.1L239.5 250.5L236.2 249.4L232.9 248.9L230.2 248.1L229.8 245.8"/>
<path class="gt" d="M230.2 248.1L226.9 248.5L224.9 250.5L226.3 253.8L226.9 255.1L225.3 257.8"/>
<path class="gt" d="M244.8 253.8L243.9 256.1L243.5 258.4L245.5 259.8"/>
<path class="b" d="M285.8 223.8C286.1 223 286.8 220.7 287.4 219.2C287.9 217.6 288.5 216.3 289.1 214.5C289.7 212.8 290.4 210.4 290.8 208.6C291.3 206.7 291.5 204.5 291.7 203.3C292 202 292.3 201.6 292.3 201C292.3 200.4 291.9 199.6 291.6 199.6C291.4 199.5 290.9 200.2 290.8 200.7C290.7 201.3 291.3 201.4 291.1 202.6C290.9 203.8 290.2 206.1 289.8 207.9C289.3 209.7 288.7 211.4 288.2 213.2C287.7 215 287.2 216.9 286.8 218.5C286.4 220.2 286.4 222 285.8 223.1C285.2 224.3 284.1 224.7 283.1 225.4C282.1 226.1 280.9 226.9 279.8 227.1C278.7 227.3 277.6 227.1 276.5 226.7C275.4 226.4 274.3 225.5 273.2 225.1C272.1 224.8 270.9 224.4 269.9 224.5C268.9 224.6 267.9 225.1 267.2 225.8C266.5 226.5 265.9 227.5 265.6 228.4C265.4 229.4 265.5 230.7 265.6 231.8C265.8 232.9 266.2 234.1 266.6 235.1C266.9 236.1 267.4 237 267.9 237.7C268.4 238.5 269.1 239.3 269.6 239.7C270.2 240.1 270.5 239.9 271.2 240.3C272 240.7 273.1 241.6 274 242.2C274.9 242.7 275.9 243.1 276.8 243.6C277.7 244 278.7 244.4 279.6 244.9C280.4 245.5 281.5 246.5 281.9 246.8"/>
<path class="b" d="M285.8 223.8C285.6 224.5 285.1 226.5 284.7 227.8C284.4 229.1 284.1 230.4 283.8 231.8C283.5 233.1 283.3 234.5 283.1 235.7C283 237 283.1 238.4 282.9 239.1C282.7 239.7 282.3 239.3 281.9 239.9C281.5 240.5 280.9 241.9 280.5 242.6C280.1 243.4 279.8 243.6 279.4 244.5C279 245.4 278.5 246.9 278.2 248.2C277.8 249.4 277.6 250.6 277.2 251.9C276.9 253.1 276.6 254.3 276.3 255.6C276.1 256.8 275.9 258 275.7 259.3C275.4 260.5 275 261.9 274.9 262.9C274.9 264 275.4 264.6 275.4 265.7C275.4 266.8 275.2 268 274.9 269.4C274.7 270.8 274.4 272.8 274 274C273.6 275.2 273 275.9 272.6 276.8C272.2 277.7 271.6 278.5 271.7 279.6C271.9 280.6 272.9 281.9 273.6 282.8C274.3 283.7 275.1 284.5 275.9 285.1C276.6 285.7 277.5 285.9 278.2 286.5C278.9 287 279.6 287.8 280 288.3C280.5 288.9 280.8 289.5 280.9 289.7"/>
<path class="b" d="M264.8 237.1C265.2 237.2 266.5 237.2 267.1 237.5C267.7 237.9 268.4 238.3 268.5 238.9C268.6 239.5 268.1 240.6 267.6 241.2C267 241.9 265.9 242.6 265.2 242.6C264.6 242.6 264 241.9 263.7 241.2C263.4 240.6 263.2 239.6 263.4 238.9C263.6 238.2 264.5 237.4 264.8 237.1"/>
<path class="b" d="M267.1 237.5C267.6 237.8 268.9 238.4 269.9 238.9C270.8 239.5 271.6 240.2 272.6 240.8C273.6 241.4 274.9 241.9 275.9 242.4C276.9 243 277.8 243.4 278.6 244C279.5 244.6 280.6 245.6 280.9 245.9"/>
<path class="b" d="M269.4 240.8C269.8 241.2 271.1 242.4 271.7 243.1C272.3 243.8 272.9 244.2 273.1 244.9C273.2 245.7 272.9 246.8 272.6 247.7C272.3 248.6 271.7 249.6 271.2 250.5C270.8 251.4 270.3 252.3 269.9 253.2C269.4 254.2 268.9 255.2 268.5 256C268 256.9 267.6 257.7 267.1 258.3C266.6 258.9 266.1 259.1 265.7 259.7C265.3 260.3 265.1 261.2 264.8 262C264.5 262.9 264.1 263.7 263.9 264.8C263.6 265.9 263.4 267.3 263.4 268.5C263.4 269.7 263.6 272 263.7 272.2C263.7 272.3 263.8 269.3 263.6 269.4C263.4 269.5 262.9 271.5 262.5 272.6C262.1 273.7 261.4 274.8 261.1 275.9C260.7 276.9 260.5 278.2 260.4 279.1C260.4 280 260.8 280.6 260.6 281.4C260.4 282.2 259.9 283.6 259.2 284C258.6 284.4 257.3 283.8 256.9 283.7"/>
<path class="b" d="M267.6 242.2C267.3 242.5 266.6 243.6 266.2 244.5C265.7 245.3 265.2 246.3 264.8 247.2C264.4 248.2 263.9 249.1 263.7 250C263.4 250.9 263.3 251.9 263.4 252.8C263.5 253.7 264 254.6 264.3 255.6C264.6 256.5 265 257.6 265.2 258.3C265.5 259 265.4 258.9 265.7 259.7C266 260.5 266.6 261.9 267.1 262.9C267.6 263.9 268 264.8 268.5 265.7C268.9 266.6 269.5 267.6 269.9 268.5C270.2 269.4 270.5 270.3 270.8 271.3C271.1 272.2 271.6 273.6 271.7 274C271.9 274.5 271.7 273.6 271.7 274C271.7 274.5 271.7 276.3 271.7 276.8"/>
<path class="b" d="M273.1 244.9C272.6 245.3 271.2 246.5 270.3 247.2C269.4 248 268.5 248.8 267.6 249.6C266.6 250.3 265.5 251.2 264.8 251.9C264.1 252.5 264 253 263.4 253.2C262.8 253.5 261.9 253.5 261.1 253.2C260.3 253 259.5 252.3 258.8 251.9C258 251.4 257.2 251 256.5 250.5C255.7 249.9 254.8 249.2 254.2 248.6C253.5 248 252.5 246.9 252.3 246.8C252.2 246.7 253 247.6 253.2 248C253.5 248.4 253.6 249.1 253.7 249.3"/>
<path class="b" d="M264.8 259.7C265.2 259.6 266.6 259.2 267.6 259.1C268.5 258.9 269.4 258.8 270.3 258.8C271.2 258.8 272.3 258.9 273.1 259.1C273.9 259.2 274.2 259.4 274.9 259.7C275.6 260.1 276.7 260.4 277.2 261.1C277.8 261.8 278.1 262.9 278.2 263.9C278.2 264.9 277.8 267 277.7 267.1C277.6 267.3 277.9 264.6 277.7 264.8C277.5 264.9 276.7 267 276.3 268C275.9 269 275.7 270.1 275.2 270.8C274.8 271.4 274.1 272.1 273.6 272C273.1 271.9 272.5 271.1 272.2 270.3C271.8 269.6 271.5 268.5 271.4 267.5C271.4 266.6 271.7 264.9 271.7 264.8C271.7 264.6 271.4 266.8 271.4 266.6C271.5 266.5 271.8 264.7 272.2 263.9C272.5 263 273.1 262.3 273.6 261.6C274 260.9 274.7 260 274.9 259.7"/>
<path class="b" d="M245.7 270.5C246 270.9 246.9 271.9 247.6 272.8C248.3 273.6 249.1 274.6 249.9 275.6C250.6 276.5 251.4 277.4 252.2 278.3C252.9 279.3 253.9 280.3 254.5 281.1C255.1 281.9 255.6 282.6 255.9 283C256.1 283.3 255.7 283 256 283.4C256.3 283.9 257.1 285 257.9 285.6C258.6 286.1 259.7 286.5 260.6 286.5C261.6 286.5 262.6 286 263.4 285.6C264.2 285.1 265 284.4 265.7 283.7C266.4 283 267 282.2 267.6 281.4C268.1 280.6 268.5 279.6 268.9 278.6C269.4 277.7 269.9 276.8 270.3 275.9C270.7 274.9 271.1 273.5 271.2 273.1"/>
<path class="b" d="M241.1 276.5C241.5 276.3 242.5 275.5 243.4 275.6C244.3 275.6 245.6 276.4 246.6 276.9C247.7 277.5 248.8 278.2 249.9 278.8C250.9 279.4 252.3 279.8 253.1 280.6C253.9 281.5 254.6 282.8 254.6 283.7C254.6 284.6 253.7 285.2 253.2 286C252.8 286.8 252.2 287.5 251.9 288.3C251.5 289.2 251.3 290.3 250.9 291.1C250.5 291.9 250.1 292.4 249.5 292.9C249 293.5 248.4 293.9 247.7 294.3C247 294.8 246 295.3 245.4 295.7C244.8 296.1 243.9 296.6 244 296.6C244.1 296.6 246.1 296.1 246.2 295.8C246.4 295.4 245.4 294.5 244.9 294.4C244.4 294.4 243.7 294.9 243.3 295.5C242.8 296 242.1 297.2 242.2 297.7C242.3 298.3 243.3 298.8 243.8 298.7C244.4 298.5 245.3 297.1 245.5 296.8"/>
<path class="b" d="M267.8 289.7C267.6 290 266.8 290.9 266.2 291.6C265.5 292.2 264.6 292.9 263.9 293.4C263.1 293.9 262.2 294.3 261.6 294.8C260.9 295.3 260.2 295.6 259.7 296.2C259.2 296.7 258.7 297.4 258.3 298C257.9 298.6 257.8 299.7 257.4 299.9C257 300 256.5 299.3 256 298.9C255.5 298.6 254.9 297.9 254.2 297.6C253.5 297.2 252.6 296.9 251.9 296.6C251.1 296.3 250.2 296.1 249.5 295.7C248.8 295.4 248 294.7 247.7 294.5"/>
<path class="b" d="M271.7 282.8C271.3 283.2 270 284.2 269.4 285.1C268.8 285.9 268.1 286.9 267.8 287.9C267.6 288.8 267.6 289.8 267.8 290.6C268.1 291.5 268.8 292.4 269.4 292.9C270 293.5 270.9 294.1 271.7 294.1C272.5 294.2 273.4 293.9 274 293.4C274.6 292.9 275.2 292.1 275.4 291.4C275.6 290.6 275.3 289.6 275.4 288.8C275.5 288 276 287.2 275.9 286.5C275.7 285.7 275 284.8 274.5 284.2C273.9 283.6 272.9 283 272.6 282.8"/>
<path class="b" d="M253.1 261.2C252.5 262 250.8 264.3 249.4 265.9C248 267.4 246.3 268.9 244.8 270.5C243.2 272 241.7 273.6 240.2 275.1C238.6 276.6 236.9 278.1 235.6 279.3C234.2 280.4 232.9 281.3 231.9 282C230.9 282.7 230.1 283.1 229.5 283.4C229 283.8 228.7 284 228.6 284.2C228.6 284.3 228.7 284.7 229.3 284.5C229.8 284.3 230.7 283.7 231.9 283C233.1 282.2 234.9 281.3 236.5 280.2C238 279.1 239.6 277.8 241.1 276.5C242.6 275.2 244.2 273.8 245.7 272.3C247.3 270.9 249 269.1 250.3 267.7C251.6 266.3 253.1 265.2 253.6 264C254 262.9 253.6 261.6 253.1 260.8C252.6 260 251.6 259.6 250.8 259.4C250 259.2 248.9 259.8 248.5 259.9"/>
<path class="b" d="M251.7 259.9C251.4 259.8 250.6 259.6 249.9 259.4C249.2 259.2 248.4 258.8 247.6 258.5C246.7 258.2 245.7 257.8 244.8 257.6C243.9 257.3 242.9 257.1 242 257.1C241.1 257.1 240 257.4 239.2 257.6C238.5 257.7 237.9 258.2 237.4 258C236.9 257.9 236.9 256.8 236.5 256.6C236.1 256.5 235.7 256.8 235.1 257.1C234.5 257.4 233.6 258 232.8 258.5C231.9 258.9 230.8 259.5 230 259.9C229.2 260.2 228.2 260.3 228.2 260.8C228.1 261.2 228.9 262.4 229.5 262.6C230.2 262.9 231.2 262.3 231.9 262.2C232.5 262 233.1 261.5 233.2 261.7C233.4 261.9 233 262.9 232.8 263.6C232.5 264.2 232.2 264.9 231.9 265.4C231.5 265.9 231 266.3 230.9 266.8C230.9 267.2 231.1 268 231.4 268.2C231.7 268.3 232.5 267.8 232.8 267.7"/>
<path class="b" d="M237.4 258C237.8 258.3 238.9 259.2 239.7 259.9C240.5 260.5 241.4 261.1 242 261.7C242.6 262.3 243 263.1 243.4 263.6C243.8 264 244.2 264.3 244.3 264.5"/>
</g>
<rect x="207.3" y="196.9" width="60.3" height="29.3" rx="1" fill="#fff" fill-opacity=".8" stroke="#dadada" stroke-width=".6"/>
<path class="gt" d="M210.3 204.5H228.3"/>
<path class="b" d="M210.3 217.7H228.3"/>
<text class="l" x="235.3" y="207.3">gt</text>
<text class="l" x="235.3" y="220.7">D-GNC</text>
<text class="a" x="262.8" y="341.5" text-anchor="middle"><tspan font-style="italic">x</tspan> (m)</text>
<text class="a" transform="translate(180.3 256.2) rotate(-90)" text-anchor="middle"><tspan font-style="italic">y</tspan> (m)</text>
<text class="c" x="247.8" y="358.8" text-anchor="middle">(e)</text>
</g>
<g>
<text class="t" x="395.8" y="329.9" text-anchor="middle">0</text>
<text class="t" x="435.1" y="329.9" text-anchor="middle">20</text>
<text class="t" x="474.4" y="329.9" text-anchor="middle">40</text>
<text class="t" x="364.5" y="312.9" text-anchor="end">−30</text>
<text class="t" x="364.5" y="293.3" text-anchor="end">−20</text>
<text class="t" x="364.5" y="273.6" text-anchor="end">−10</text>
<text class="t" x="364.5" y="254" text-anchor="end">0</text>
<text class="t" x="364.5" y="234.3" text-anchor="end">10</text>
<text class="t" x="364.5" y="214.7" text-anchor="end">20</text>
<path class="g" d="M396.1 192.2V319.3M435.4 192.2V319.3M474.7 192.2V319.3M368.4 309.6H489.4M368.4 290H489.4M368.4 270.3H489.4M368.4 250.7H489.4M368.4 231H489.4M368.4 211.4H489.4"/>
<rect class="g" x="368.4" y="192.2" width="121" height="127.1"/>
<clipPath id="cf"><rect x="368.4" y="192.2" width="121" height="127.1"/></clipPath>
<g clip-path="url(#cf)">
<path class="gt" d="M445.6 229.7L450.5 221.4"/>
<path class="ga" d="M450.5 221.4L459.1 200.2"/>
<path class="gt" d="M459 200.2L459 198.6L460 197.8L460.7 198.8L460 200"/>
<path class="gt" d="M445.6 229.7L441.7 229.2L437.9 229.7L434.5 230.7L432.8 233.4L432.6 237.1L434.4 240.3L437.4 242.9L439.7 245.6L439.7 245.9L441.7 248.6L445.1 250.3L449.2 250L453.3 250.7L455 252.7L452.9 255.4L449.9 258.1L446.5 261.5L443.1 264.7L439.7 267.7L436.3 270.7L432.9 273.4L430.2 275.1"/>
<path class="gt" d="M445.6 229.7L446.6 233.4L446.8 236.5L443.8 237.9L441.5 239.2L440.4 241.5L439.7 244.3L439.7 245.6"/>
<path class="gs" d="M399.6 249.2L403 250.6L406.4 252.9L409.1 256L411.9 257.8L414.6 258.7L417.3 261.4L421.4 266.2L425.5 271L429.5 275"/>
<path class="gt" d="M439.7 267.7L442.4 270.4L444.4 273.8L447.8 277.2L450.6 279.9L449.2 282.6L445.8 284.7L442.4 286L439.7 288.1L437.6 291.5L436.3 294.9L433.6 298.3L430.8 301.7L429.5 304.4L428.9 305.6L426.2 307L422.1 307.5L418.7 307.9L417 308.6L415.3 310.6L417 312.7L418.3 310.6L417 308.6L416.4 305.9L416 302.5L414.6 299.7L411.9 297L411 293.6L411.9 290.2L412.9 286.1L411.9 281.4"/>
<path class="gt" d="M436.3 294.9L437 296.9L439.7 297.6L443.1 297.6L445.8 295.5L447.8 293.5L449.9 293.5L451 296.9"/>
<path class="gt" d="M443.8 285.3L446.5 288.1L448.5 291.5L449.9 293.5"/>
<path class="gs" d="M401.7 268.5L407.2 274.6L411.9 281.4L415.3 284.8L419.4 285.5L423.5 282.1L428.9 275.3"/>
<path class="gm" d="M408.1 258.4L388 281.9"/>
<path class="gt" d="M399.6 249.2L401 246.5L403 242.4L404.4 239L407.8 237.6L410.9 234.9L410.8 228.8"/>
<path class="gt" d="M404.4 239L403 236.3L401.7 234.7L398.9 234.7L398.9 236"/>
<path class="gt" d="M399.6 249.2L396.2 248.5L392.8 247.4L389.4 246.9L386.7 246.1L386.3 243.8"/>
<path class="gt" d="M386.7 246.1L383.3 246.5L381.3 248.5L382.6 251.9L383.3 253.3L381.7 256"/>
<path class="gt" d="M401.7 251.9L400.7 254.2L400.3 256.7L402.3 258"/>
<path class="b" d="M460.5 221.8C460.7 222 461.2 222.8 461.8 223.1C462.5 223.5 463.7 224.3 464.5 223.8C465.2 223.4 465.8 221.7 466.2 220.5C466.6 219.3 466.3 217.7 467.1 216.5C467.9 215.3 469.9 214.3 471.1 213.2C472.3 212.1 473.3 211.2 474.4 209.9C475.5 208.6 476.9 206.2 477.7 205.3C478.5 204.3 479 204.4 479.2 203.9C479.3 203.4 478.9 202.4 478.7 202.3C478.4 202.2 477.7 202.8 477.5 203.4C477.2 204 477.7 204.8 477.1 205.9C476.4 207 474.9 208.7 473.7 209.9C472.6 211.1 471.5 212.1 470.4 213.2C469.3 214.3 468.2 215.5 467.1 216.5C466 217.5 464.9 218.4 463.8 219.2C462.7 220 461.6 220.7 460.5 221.4C459.4 222.2 458.3 222.9 457.2 223.5C456.1 224.2 454.8 225.4 453.9 225.4C453 225.4 452.7 224.1 451.9 223.5C451.1 222.9 450.2 222.2 449.2 221.8C448.2 221.4 447 221.1 445.9 221.2C444.8 221.2 443.5 221.7 442.6 222.2C441.7 222.8 441 223.5 440.6 224.5C440.2 225.4 440.2 226.6 440.2 227.8C440.3 229 440.8 230.5 441 231.8C441.2 233 441.5 234 441.5 235.1C441.6 236.2 441.3 237.4 441.3 238.4C441.3 239.4 441.3 240.3 441.5 241C441.8 241.8 442 242.5 442.6 243C443.2 243.5 444.3 243.9 445.3 244C446.2 244 447.6 243.4 448.6 243.4C449.6 243.5 450.4 243.9 451.2 244.4C452 244.8 453 245.6 453.5 246.3C453.9 247.1 454.1 248.2 453.9 249C453.6 249.8 452.7 250.5 451.9 251C451.1 251.4 449.9 251.8 449.2 251.6C448.5 251.5 447.9 250.8 447.6 250.1C447.4 249.3 448.2 247.8 447.9 247C447.6 246.2 446.7 245.5 445.9 245C445.1 244.6 444 244.8 443.3 244.4C442.5 243.9 441.8 243 441.5 242.4C441.3 241.7 441.8 241 441.9 240.4C442.1 239.7 442.3 239.2 442.6 238.4C442.9 237.6 443.2 236.6 443.7 235.7C444.1 234.9 444.7 233.7 445.3 233.1C445.9 232.4 446.5 232 447.2 231.8C448 231.5 449.1 232 449.9 231.8C450.7 231.5 451.3 231.1 451.9 230.4C452.4 229.8 452.9 228.6 453.2 227.8C453.5 226.9 453.8 225.8 453.9 225.4"/>
<path class="b" d="M451.8 245.6C452 246 453.1 247.1 453.1 248C453.1 248.9 452.5 250.1 451.8 250.9C451.1 251.7 450 252.2 449.2 253C448.3 253.8 447.4 254.8 446.5 255.7C445.6 256.5 444.7 257.4 443.9 258.3C443 259.2 442.1 260.2 441.2 261.2C440.3 262.3 439.3 263.4 438.6 264.5C437.8 265.6 437.3 266.8 436.6 267.9C435.8 269 434.8 270.2 433.9 271.2C433 272.2 432 273.2 431.3 273.8C430.5 274.5 429.6 274.9 429.3 275.1"/>
<path class="b" d="M449.8 251.3C449.4 251.7 448.2 253.1 447.2 253.9C446.2 254.8 444.9 255.6 443.9 256.6C442.9 257.5 442.1 258.6 441.2 259.6C440.3 260.7 439.3 261.8 438.6 262.8C437.8 263.9 437.5 264.8 437 265.9C436.4 266.9 436 268.2 435.2 269.2C434.5 270.2 433.5 271.1 432.6 271.8C431.7 272.6 430.4 273.5 429.9 273.8"/>
<path class="b" d="M437.9 265.2C438.2 265.6 439.2 267 439.9 267.9C440.5 268.7 441.3 269.5 441.9 270.5C442.5 271.5 443.3 272.8 443.6 273.8C443.9 274.8 444.1 275.7 443.9 276.5C443.6 277.3 442.5 278.1 441.9 278.7C441.2 279.4 440.5 279.9 439.9 280.4C439.2 281 438.6 281.3 437.9 281.8C437.2 282.2 436.3 282.4 435.6 283.1C435 283.8 434.4 284.8 433.9 285.7C433.5 286.7 433.1 288 433 289.1C432.9 290.2 433.1 291.4 433.5 292.4C434 293.4 434.8 294.6 435.6 295C436.5 295.5 437.7 295.4 438.6 295C439.4 294.7 440.1 293.9 440.5 293C440.9 292.2 440.7 290.7 440.9 289.7C441.2 288.7 441.4 287.4 441.9 287.1C442.4 286.8 443.2 287.6 443.9 288C444.5 288.4 445.2 289.2 445.8 289.7C446.5 290.2 447.3 290.8 447.6 291.1"/>
<path class="b" d="M437.9 281.8C438.2 282.1 439.2 282.9 439.9 283.5C440.5 284.1 441.3 284.8 441.9 285.4C442.5 285.9 443.3 286.8 443.6 287.1"/>
<path class="b" d="M433.5 292.4C433.2 292.9 432.4 294.6 431.7 295.7C431 296.8 430.1 297.9 429.3 299C428.4 300.1 427.4 301.3 426.6 302.3C425.9 303.3 425.4 304.1 424.6 305C423.9 305.8 420.9 308.7 422 307.4C423 306 429.8 298.3 431 297.1C432.1 295.8 429.6 298.8 429 299.7C428.3 300.6 427.7 301.5 427 302.4C426.3 303.2 425.8 304.2 425 305C424.2 305.8 423.3 306.5 422.4 307C421.4 307.4 420.1 307.6 419 307.7C417.9 307.7 416.9 307.4 415.7 307.3C414.6 307.1 413 306.7 412.1 307C411.3 307.3 411.2 308.3 410.8 309C410.5 309.7 410.4 310.9 410 311.2C409.7 311.6 408.9 311.3 408.7 311C408.5 310.6 408.8 309.8 409.1 309C409.4 308.2 410 307.3 410.4 306.3C410.9 305.3 411.5 304.1 411.7 303C412 301.9 412.3 300.8 412.1 299.7C412 298.6 411 297.5 410.8 296.4C410.6 295.3 410.5 294.1 410.8 293.1C411.1 292.1 412.1 291.3 412.7 290.4C413.3 289.5 414.3 288.7 414.4 287.8C414.5 286.9 413.5 286 413.1 285.1C412.6 284.2 412.2 283.6 411.7 282.5C411.3 281.4 411 279.9 410.4 278.5C409.9 277.1 409.2 275.3 408.4 273.9C407.7 272.4 406.7 271.2 405.8 269.9C404.9 268.6 403.8 266.8 403.1 265.9C402.5 265 402 264.8 401.8 264.6"/>
<path class="b" d="M411.7 303C412.1 303.4 413 304.7 413.7 305.4C414.5 306.1 415.7 306.9 416.1 307.3"/>
<path class="b" d="M401.8 264.6C402.5 265.2 404.6 267.3 405.8 268.6C407 269.8 408 270.8 409.1 271.9C410.2 273 411.2 274.1 412.1 275.2C413.1 276.3 414.2 277.4 415.1 278.5C415.9 279.6 416.3 280.8 417.1 281.5C417.8 282.3 418.7 282.8 419.7 282.9C420.7 282.9 421.9 282.3 423 281.8C424.1 281.3 425.2 280.6 426.3 279.8C427.4 279 428.6 278.1 429.6 277.2C430.6 276.3 432.3 275.4 432.3 274.5C432.3 273.6 430.7 273 429.6 271.9C428.5 270.8 427 269.2 425.7 267.9C424.3 266.6 423 265.2 421.7 263.9C420.4 262.6 418.9 261 417.7 259.9C416.5 258.9 415.5 258 414.4 257.7C413.3 257.4 412.4 257.1 411.1 258C409.8 258.8 408.1 260.9 406.4 262.6C404.8 264.2 402.9 266.2 401.1 267.9C399.4 269.5 397.6 271.1 395.8 272.5C394.1 274 392.1 275.4 390.5 276.5C389 277.6 387.4 278.4 386.6 278.9C385.7 279.4 385.6 279.2 385.6 279.4C385.6 279.6 385.7 280.3 386.6 280C387.5 279.6 389.3 278.5 390.9 277.4C392.6 276.4 394.5 275 396.2 273.6C398 272.2 399.8 270.5 401.5 268.8C403.3 267.1 405.2 265.2 406.8 263.5C408.5 261.8 410.3 259.6 411.6 258.7C412.9 257.9 413.7 258.2 414.8 258.6C415.9 259 416.8 259.9 418 261C419.2 262.1 420.6 263.7 422 265C423.3 266.3 424.6 267.6 425.9 269C427.3 270.3 429.2 272.2 429.9 272.8"/>
<path class="b" d="M399.4 229.8C399.6 230.3 400 231.6 400.5 232.5C401 233.4 402.3 234.2 402.5 235.1C402.7 236.1 402.1 237.2 401.8 238.2C401.5 239.2 401.1 240.1 400.7 241.1C400.4 242.1 400.1 243.3 399.8 244.4C399.6 245.5 399.4 246.7 399.2 247.7C398.9 248.7 398.7 249.5 398.5 250.4C398.3 251.2 398.2 252.4 398.1 252.8"/>
<path class="b" d="M401.8 235.8C401.4 236 400.3 236.7 399.4 237.1C398.5 237.5 397.4 238 396.5 238.2C395.6 238.4 394.7 238.3 393.9 238.5C393 238.6 391.9 238.7 391.2 239.1C390.5 239.5 389.6 240.3 389.6 240.8C389.6 241.4 390.5 242.1 391.2 242.2C391.9 242.3 393.1 241.2 393.9 241.4C394.6 241.6 395.3 242.6 395.8 243.4C396.4 244.1 396.8 245.1 397.2 246C397.5 246.9 397.7 247.9 397.8 248.7C398 249.4 398.1 250.3 398.1 250.7"/>
<path class="b" d="M398.1 253C397.6 253.2 396.2 253.8 395.2 254.1C394.1 254.4 393 254.5 391.9 254.6C390.8 254.8 389.4 255.2 388.6 255C387.7 254.9 387.1 254.3 386.6 253.7C386 253.1 385.8 251.7 385.2 251.7C384.7 251.7 383.9 253 383.3 253.7C382.7 254.4 382.3 255.3 381.7 256C381 256.6 379.9 257.2 379.5 257.7C379.1 258.2 379 258.7 379.3 259C379.6 259.3 380.6 259.3 381.3 259.4C381.9 259.5 382.7 259.4 383.3 259.7C383.8 260 384.2 260.6 384.6 261.3C384.9 261.9 385.3 262.8 385.2 263.4C385.2 264 384.5 264.5 384.3 265C384.1 265.4 383.8 266 383.9 266C384.1 266.1 385 265.4 385.2 265.2"/>
<path class="b" d="M385.9 254.4C385.8 254.8 385.6 256.2 385.2 257C384.9 257.8 384.1 258.7 383.9 259"/>
<path class="b" d="M398.1 253C398.5 253.3 399.6 254 400.5 254.4C401.3 254.7 402.4 254.8 403.1 255C403.9 255.3 404.3 255.5 405.1 256C405.9 256.4 407 257.3 407.8 257.7C408.5 258.1 408.9 258.4 409.8 258.3C410.6 258.3 412.5 257.5 413.1 257.3"/>
<path class="b" d="M402.5 258.3C402.6 258.7 403.4 260.1 403.1 260.3C402.9 260.5 401.6 260.2 401.1 259.7C400.7 259.1 400.3 257.8 400.2 257C400.2 256.2 400.7 255.4 400.7 255"/>
</g>
<rect x="373.2" y="196.9" width="65.6" height="29.3" rx="1" fill="#fff" fill-opacity=".8" stroke="#dadada" stroke-width=".6"/>
<path class="gt" d="M376.2 204.5H394.2"/>
<path class="b" d="M376.2 217.7H394.2"/>
<text class="l" x="401.2" y="207.3">gt</text>
<text class="l" x="401.2" y="220.7">OI+GNC</text>
<text class="a" x="428.7" y="341.5" text-anchor="middle"><tspan font-style="italic">x</tspan> (m)</text>
<text class="a" transform="translate(346.2 256.2) rotate(-90)" text-anchor="middle"><tspan font-style="italic">y</tspan> (m)</text>
<text class="c" x="413.8" y="358.8" text-anchor="middle">(f)</text>
</g>
<g>
<text class="t" x="67.9" y="513.7" text-anchor="middle">0</text>
<text class="t" x="107.1" y="513.7" text-anchor="middle">20</text>
<text class="t" x="146.3" y="513.7" text-anchor="middle">40</text>
<text class="t" x="32.6" y="496.7" text-anchor="end">−30</text>
<text class="t" x="32.6" y="477.1" text-anchor="end">−20</text>
<text class="t" x="32.6" y="457.5" text-anchor="end">−10</text>
<text class="t" x="32.6" y="437.9" text-anchor="end">0</text>
<text class="t" x="32.6" y="418.3" text-anchor="end">10</text>
<text class="t" x="32.6" y="398.7" text-anchor="end">20</text>
<path class="g" d="M68.2 376V503.1M107.4 376V503.1M146.6 376V503.1M36.5 493.4H157.5M36.5 473.8H157.5M36.5 454.2H157.5M36.5 434.6H157.5M36.5 415H157.5M36.5 395.4H157.5"/>
<rect class="g" x="36.5" y="376" width="121" height="127.1"/>
<clipPath id="cg"><rect x="36.5" y="376" width="121" height="127.1"/></clipPath>
<g clip-path="url(#cg)">
<path class="gt" d="M117.6 413.6L122.5 405.4"/>
<path class="ga" d="M122.5 405.4L131 384.2"/>
<path class="gt" d="M130.9 384.2L130.9 382.7L131.9 381.9L132.7 382.9L131.9 384"/>
<path class="gt" d="M117.5 413.7L113.7 413.1L109.9 413.7L106.5 414.6L104.8 417.3L104.6 421L106.4 424.2L109.4 426.8L111.7 429.5L111.7 429.8L113.7 432.5L117.1 434.2L121.2 433.9L125.2 434.6L127 436.6L124.8 439.3L121.8 442L118.4 445.4L115.1 448.5L111.7 451.5L108.3 454.5L104.9 457.2L102.2 459"/>
<path class="gt" d="M117.5 413.7L118.6 417.3L118.7 420.4L115.8 421.8L113.5 423.2L112.4 425.5L111.7 428.2L111.7 429.5"/>
<path class="gs" d="M71.7 433.1L75.1 434.5L78.5 436.8L81.2 439.9L83.9 441.7L86.6 442.6L89.3 445.3L93.4 450.1L97.5 454.8L101.6 458.9"/>
<path class="gt" d="M111.7 451.5L114.4 454.2L116.4 457.6L119.8 461L122.5 463.7L121.2 466.4L117.8 468.5L114.4 469.8L111.7 471.9L109.6 475.3L108.3 478.7L105.6 482L102.8 485.4L101.5 488.1L100.9 489.4L98.2 490.7L94.2 491.3L90.8 491.7L89 492.3L87.4 494.4L89 496.4L90.4 494.4L89 492.3L88.5 489.6L88.1 486.2L86.7 483.5L84 480.8L83 477.4L84 474L84.9 470L84 465.2"/>
<path class="gt" d="M108.3 478.7L109 480.7L111.7 481.4L115.1 481.4L117.8 479.3L119.8 477.3L121.8 477.3L122.9 480.7"/>
<path class="gt" d="M115.7 469.2L118.4 471.9L120.5 475.3L121.8 477.3"/>
<path class="gs" d="M73.8 452.3L79.2 458.4L84 465.2L87.4 468.6L91.4 469.3L95.5 465.9L100.9 459.1"/>
<path class="gm" d="M80.2 442.2L60.2 465.8"/>
<path class="gt" d="M71.7 433.1L73.1 430.4L75.1 426.3L76.5 422.9L79.9 421.6L83 418.9L82.8 412.8"/>
<path class="gt" d="M76.5 422.9L75.1 420.2L73.7 418.6L71 418.6L71 420"/>
<path class="gt" d="M71.7 433.1L68.3 432.4L64.9 431.3L61.5 430.8L58.8 430L58.4 427.7"/>
<path class="gt" d="M58.8 430L55.4 430.4L53.4 432.4L54.8 435.8L55.4 437.2L53.8 439.9"/>
<path class="gt" d="M73.7 435.8L72.8 438.1L72.4 440.6L74.4 441.9"/>
<path class="b" d="M133.1 405.8C133.2 405.5 133.4 405 133.8 404.1C134.2 403.2 135.1 402 135.8 400.5C136.5 399 137.5 397 138.2 395.2C138.9 393.5 139.5 391.6 140 389.9C140.6 388.2 141 386.1 141.4 385C141.7 383.9 142.1 383.7 142.1 383.2C142.1 382.6 141.6 381.8 141.4 381.8C141.1 381.8 140.6 382.6 140.6 383.2C140.5 383.7 141 384.2 140.8 385.3C140.6 386.4 140.1 388.3 139.5 389.9C138.9 391.6 138.1 393.5 137.4 395.2C136.6 397 135.8 399 135.1 400.5C134.4 402.1 133.7 403.4 133.1 404.5C132.6 405.6 132.4 406.5 131.8 407.1C131.3 407.8 130.6 408 129.8 408.5C129 408.9 128.1 409.6 127.2 409.8C126.3 410 125.5 410 124.5 409.8C123.5 409.6 122.3 408.9 121.2 408.5C120.1 408 119 407.4 117.9 407.1C116.8 406.9 115.5 406.9 114.6 407.1C113.6 407.4 112.7 408.1 112.2 408.9C111.6 409.6 111.4 410.7 111.3 411.8C111.2 412.8 111.4 414 111.7 415.1C111.9 416.2 112.4 417.3 112.6 418.4C112.8 419.5 112.9 420.7 113 421.7C113.1 422.7 113.2 423.5 113.3 424.4C113.3 425.3 113.3 426.3 113.5 427C113.7 427.8 114 428.5 114.6 429C115.2 429.6 116.3 430.2 117.2 430.3C118.1 430.5 119 429.8 119.9 429.7C120.8 429.6 121.7 429.5 122.5 429.7C123.4 429.9 124.4 430.3 124.9 431C125.4 431.7 125.6 432.9 125.4 433.7C125.3 434.4 124.6 435.2 123.9 435.6C123.1 436.1 121.9 436.5 121.2 436.3C120.5 436.1 119.9 435.1 119.6 434.3C119.4 433.5 119.9 432.4 119.6 431.7C119.3 430.9 118.6 430.2 117.9 429.7C117.2 429.2 116 429.2 115.2 428.8C114.5 428.3 113.6 427.6 113.3 427C112.9 426.4 112.9 425.7 113 425C113 424.4 113.2 423.6 113.5 423.1C113.8 422.5 114.2 421.9 114.8 421.7C115.5 421.5 116.4 421.5 117.2 421.7C118.1 421.9 119 422.5 119.9 423.1C120.8 423.6 121.9 424.3 122.5 424.8C123.1 425.3 123.4 426.2 123.6 426.1C123.8 426 123.6 425 123.9 424.4C124.1 423.8 124.6 423.2 125.2 422.7C125.7 422.1 126.6 421.8 127.2 421.1C127.7 420.4 128.4 419.3 128.5 418.4C128.6 417.5 127.6 416.6 127.6 415.8C127.5 414.9 128.2 414.1 128.1 413.1C128 412.1 127.3 410.3 127.2 409.8"/>
<path class="b" d="M124.7 430.7C124.9 431.1 125.7 432.4 125.5 433.3C125.4 434.2 124.5 435.2 123.8 436C123.1 436.7 122 437.2 121.1 437.9C120.3 438.6 119.4 439.4 118.5 440.2C117.6 441 116.7 441.9 115.8 442.8C115 443.8 114.1 444.8 113.2 445.9C112.3 447 111.4 448.1 110.5 449.2C109.7 450.3 108.8 451.4 107.9 452.5C107 453.6 106.1 454.8 105.2 455.8C104.4 456.9 103.4 458.1 102.6 458.7C101.8 459.4 100.9 459.6 100.6 459.8"/>
<path class="b" d="M119.8 432C119.6 432.4 119.2 433.7 118.5 434.6C117.8 435.6 116.8 436.5 115.8 437.5C114.9 438.5 113.5 439.5 112.5 440.6C111.6 441.7 110.8 442.8 110.1 443.9C109.5 445 108.8 446.2 108.6 447.2C108.3 448.2 108.8 448.8 108.6 449.9C108.3 451 107.9 452.7 107.2 453.8C106.6 454.9 105.5 455.7 104.6 456.5C103.7 457.3 102.4 458.4 101.9 458.7"/>
<path class="b" d="M109.2 449.9C109.5 450.3 110.3 451.6 110.9 452.5C111.5 453.4 112.2 454.2 112.8 455.2C113.4 456.1 114.2 457.3 114.5 458.2C114.9 459.2 115.1 460.1 114.9 460.9C114.7 461.7 113.8 462.5 113.2 463.1C112.6 463.8 111.9 464.3 111.2 464.8C110.5 465.4 109.9 466 109.2 466.4C108.5 466.9 107.6 467.1 107 467.8C106.3 468.4 105.7 469.4 105.2 470.4C104.7 471.4 104.1 472.6 103.9 473.7C103.8 474.8 103.9 476 104.3 477C104.7 478 105.4 479.1 106.2 479.7C106.9 480.2 108 480.6 108.8 480.4C109.6 480.1 110.5 479.2 110.9 478.4C111.4 477.5 111.2 476 111.5 475.1C111.7 474.1 112 472.8 112.5 472.4C113 472 113.9 472.1 114.5 472.4C115.2 472.7 116 473.6 116.5 474.1C117.1 474.6 117.6 475.2 117.8 475.4"/>
<path class="b" d="M109.2 466.4C109.5 466.7 110.5 467.5 111.2 468C111.9 468.6 112.6 469.2 113.2 469.7C113.8 470.3 114.6 471.2 114.9 471.5"/>
<path class="b" d="M104.3 477C104 477.6 103.3 479.2 102.6 480.4C101.9 481.5 101.1 482.6 100.3 483.7C99.6 484.8 98.9 486 98.2 487C97.5 488 96.9 488.9 96 489.6C95 490.4 91.6 492.6 92.7 491.4C93.7 490.1 101.1 483.4 102.3 482.4C103.5 481.3 100.4 484.1 99.6 485C98.9 485.9 98.4 486.8 97.7 487.7C96.9 488.6 95.9 489.7 95 490.3C94.1 490.9 93.3 491.1 92.4 491.3C91.4 491.4 90.1 491 89 491C87.9 490.9 86.5 490.7 85.7 491C85 491.3 84.8 492.3 84.4 493C84 493.7 83.8 494.9 83.5 495.2C83.1 495.6 82.3 495.3 82.1 495C82 494.6 82.2 493.8 82.4 493C82.6 492.2 83.1 491.3 83.5 490.3C83.8 489.3 84.1 488.1 84.4 487C84.7 485.9 85.2 484.8 85.1 483.7C84.9 482.6 83.8 481.5 83.5 480.4C83.1 479.3 82.9 478.1 83.1 477.1C83.2 476.1 83.8 475.2 84.4 474.4C85 473.7 86.2 473.2 86.4 472.4C86.6 471.7 86.1 470.8 85.7 469.8C85.4 468.8 85 467.7 84.4 466.5C83.8 465.3 83.2 463.8 82.4 462.5C81.6 461.2 80.6 459.8 79.8 458.5C78.9 457.2 78 455.9 77.1 454.5C76.3 453.2 75.4 451.5 74.7 450.6C74.1 449.6 73.4 449.1 73.1 448.8"/>
<path class="b" d="M84.8 487C85.2 487.5 86.3 489 87.1 489.7C87.8 490.3 88.7 490.8 89 491"/>
<path class="b" d="M73.1 448.8C73.4 449.1 74 449.7 74.7 450.6C75.5 451.4 76.7 452.8 77.8 453.9C78.8 455 80 456.1 81.1 457.2C82.2 458.3 83.4 459.3 84.4 460.5C85.4 461.7 86.3 463.1 87.1 464.2C87.8 465.3 88.3 466.5 89 467.1C89.8 467.8 90.7 468.4 91.7 468.2C92.7 468 93.9 466.6 95 465.8C96.1 465 97.2 464 98.3 463.2C99.4 462.3 100.6 461.3 101.6 460.5C102.6 459.7 104.4 459.3 104.3 458.5C104.2 457.7 102.2 457.1 101 455.9C99.8 454.7 98.3 452.8 97 451.2C95.7 449.7 94.3 448 93 446.6C91.7 445.2 90.3 443.5 89 442.6C87.8 441.7 86.8 441.4 85.7 441.3C84.6 441.2 83.7 441.2 82.4 442C81.1 442.7 79.4 444.5 77.8 445.9C76.1 447.4 74.2 449.1 72.5 450.6C70.7 452 68.9 453.2 67.2 454.5C65.4 455.9 63.3 457.6 61.9 458.5C60.4 459.5 59.3 459.9 58.6 460.2C57.8 460.6 57.2 460.6 57.2 460.8C57.2 460.9 57.7 461.5 58.6 461.3C59.4 461.1 61 460.4 62.5 459.4C64.1 458.5 66.1 456.9 67.8 455.6C69.6 454.3 71.4 452.9 73.1 451.5C74.9 450.1 76.8 448.4 78.4 447C80.1 445.5 81.8 443.5 83.1 442.7C84.4 442 85.1 442 86.1 442.2C87.2 442.4 88.2 443 89.3 443.9C90.5 444.8 91.7 446.3 93 447.7C94.3 449 95.7 450.8 97 452.3C98.3 453.8 100.1 456 100.7 456.8"/>
<path class="b" d="M75.5 414.5C75.6 414.9 75.7 416.3 76.1 417.2C76.4 418 77.6 418.7 77.8 419.5C78 420.4 77.4 421.4 77.1 422.5C76.8 423.5 76.2 424.7 75.8 425.8C75.3 426.8 74.9 427.8 74.5 428.8C74 429.8 73.5 430.8 73.1 431.7C72.8 432.7 72.7 433.6 72.5 434.4C72.3 435.2 71.9 436 71.8 436.4"/>
<path class="b" d="M76.8 420.5C76.5 420.7 75.6 421.5 74.7 421.8C73.9 422.1 72.7 422.3 71.8 422.5C70.9 422.6 70 422.7 69.2 422.7C68.3 422.8 67.3 422.5 66.5 422.7C65.7 422.9 64.6 423.5 64.5 424.1C64.4 424.6 65.2 425.6 65.8 425.8C66.5 426 67.8 424.9 68.5 425.1C69.2 425.3 69.8 426.3 70.2 427.1C70.7 427.9 70.9 428.9 71.1 429.7C71.4 430.6 71.7 431.6 71.8 432.4C72 433.2 72 434.1 72.1 434.4"/>
<path class="b" d="M71.8 436.8C71.3 436.9 69.6 437.1 68.5 437.3C67.4 437.5 66.3 437.7 65.2 437.7C64.1 437.7 62.8 437.6 61.9 437.3C61 437 60.4 436.2 59.9 435.7C59.3 435.2 59.1 434.3 58.6 434.4C58 434.5 57.2 435.7 56.6 436.4C55.9 437 55.2 437.8 54.6 438.4C53.9 439 52.9 439.5 52.6 440C52.3 440.4 52.3 441 52.6 441.3C52.9 441.6 53.9 441.5 54.6 441.7C55.2 441.9 56.1 441.9 56.6 442.3C57 442.8 57.2 443.7 57.2 444.3C57.2 445 56.8 445.8 56.6 446.3C56.3 446.8 55.8 447.3 55.9 447.4C56 447.5 57 447 57.2 447"/>
<path class="b" d="M59.9 436.4C59.7 436.8 59 438.3 58.6 439C58.1 439.8 57.5 440.7 57.2 441"/>
<path class="b" d="M71.8 436.8C72.2 437 73.4 437.7 74.2 438.1C75 438.5 75.9 438.9 76.8 439.4C77.8 439.9 78.7 440.6 79.8 441C80.8 441.4 82 441.7 83.1 441.7C84.2 441.7 85.8 441.1 86.4 441"/>
<path class="b" d="M75.1 442.1C75.2 442.5 75.7 444.1 75.5 444.3C75.3 444.6 74.2 444.2 73.8 443.7C73.4 443.1 72.9 441.8 72.9 441C72.9 440.2 73.6 439.4 73.8 439"/>
</g>
<rect x="41.3" y="380.7" width="73.8" height="29.3" rx="1" fill="#fff" fill-opacity=".8" stroke="#dadada" stroke-width=".6"/>
<path d="M44.3 388.3H62.3" stroke="#8c8c8c" stroke-width="1.3" stroke-dasharray="1.9 1.1" fill="none"/>
<path class="b" d="M44.3 401.5H62.3"/>
<text class="l" x="69.3" y="391.1">gt</text>
<text class="l" x="69.3" y="404.5">Ours+GNC</text>
<text class="a" x="96.8" y="525.3" text-anchor="middle"><tspan font-style="italic">x</tspan> (m)</text>
<text class="a" transform="translate(14.3 440.1) rotate(-90)" text-anchor="middle"><tspan font-style="italic">y</tspan> (m)</text>
<text class="c" x="81.8" y="542.6" text-anchor="middle">(g)</text>
</g>
</svg></body></html>
